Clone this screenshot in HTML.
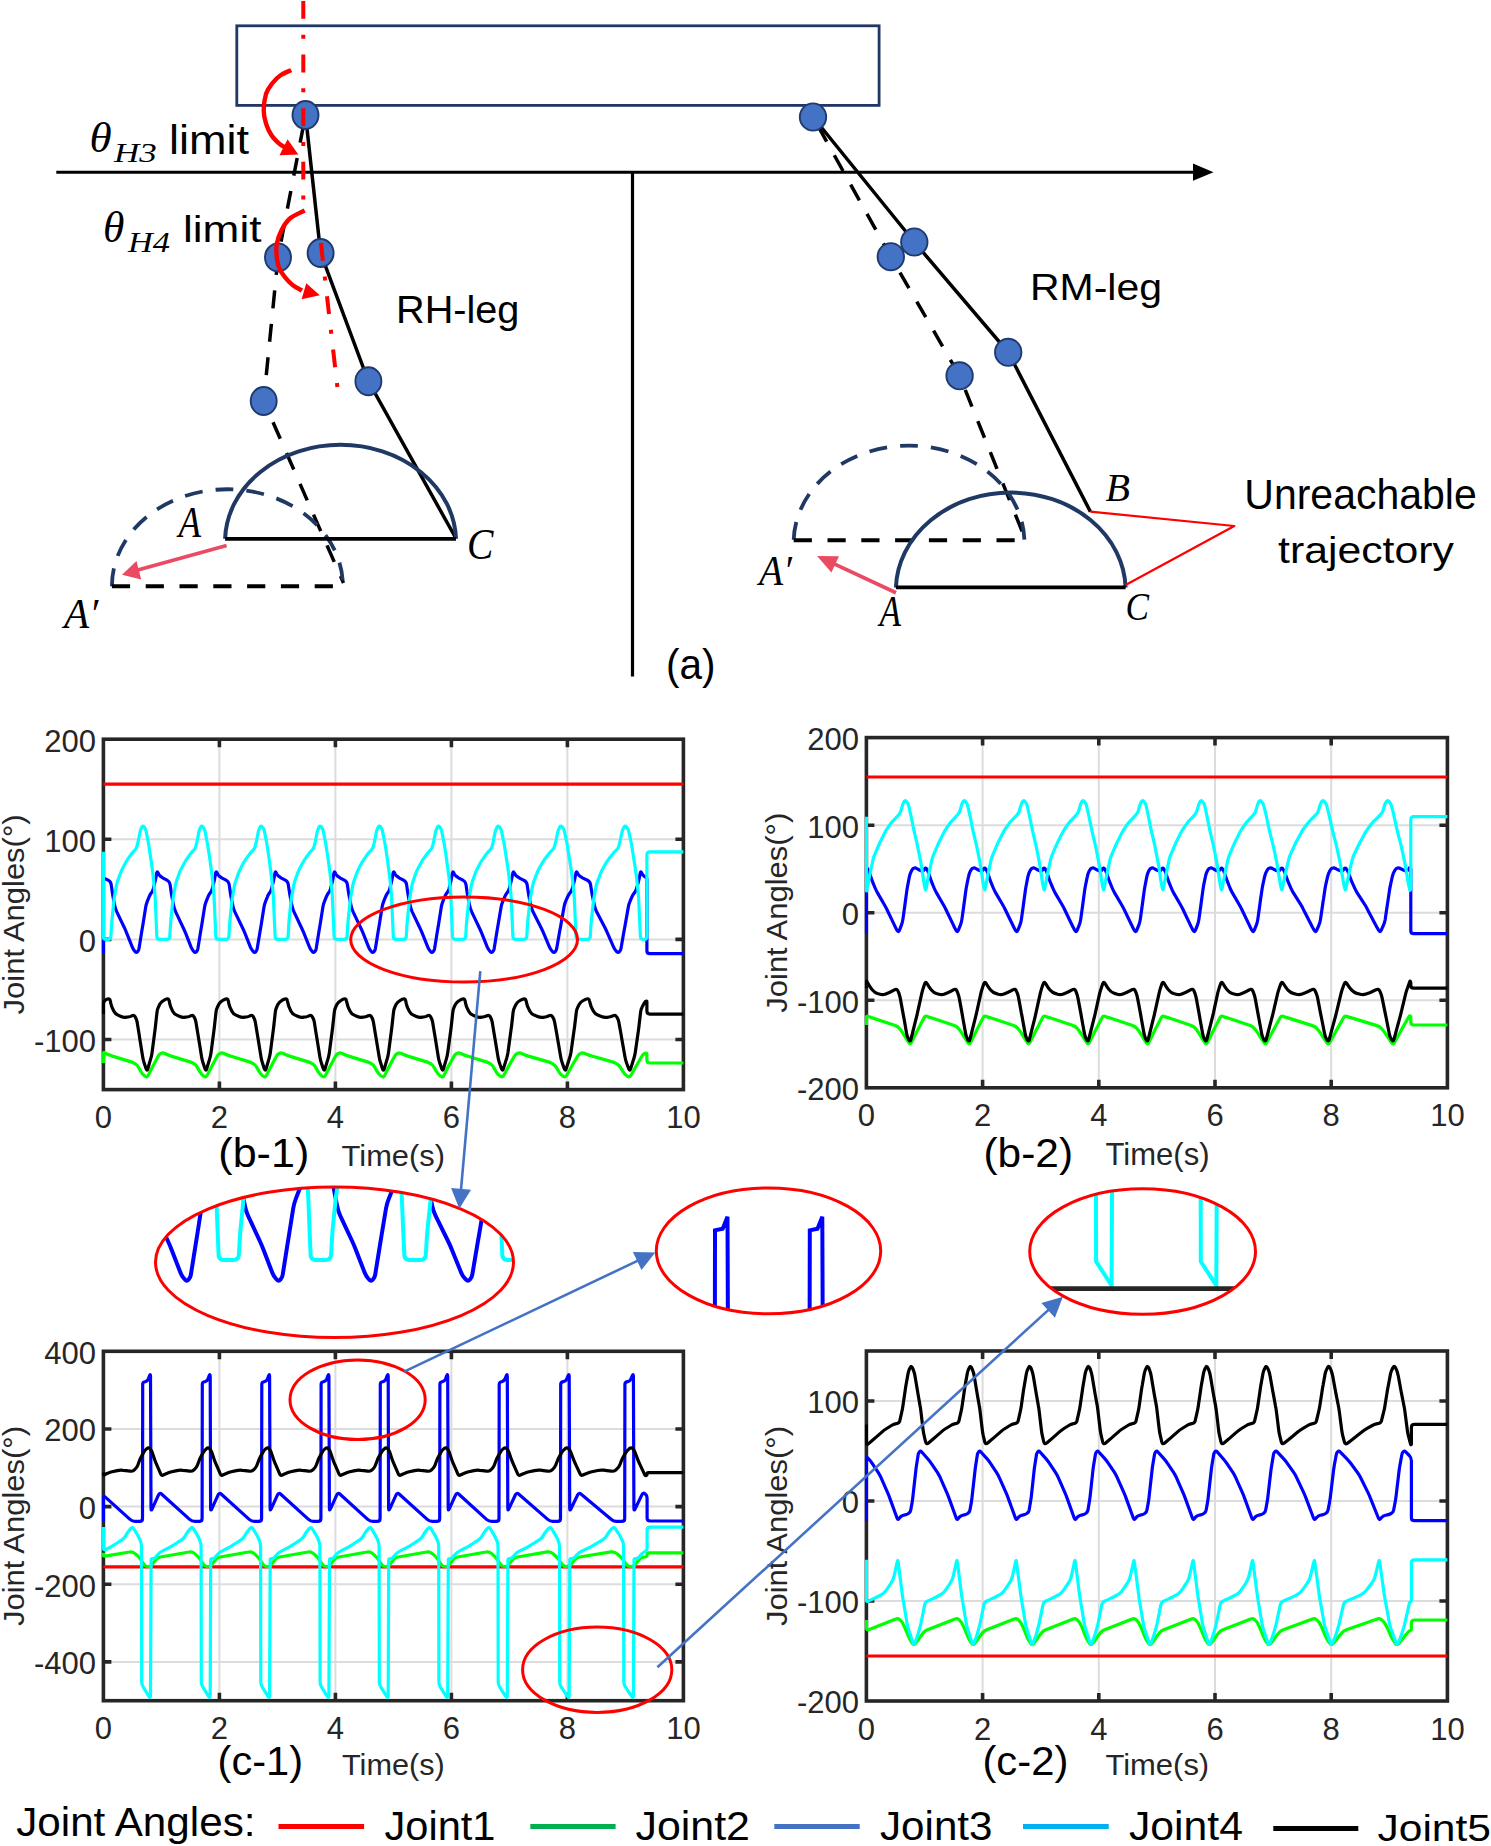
<!DOCTYPE html>
<html><head><meta charset="utf-8"><title>Joint angles figure</title><style>html,body{margin:0;padding:0;background:#fff;overflow:hidden;}svg{display:block;}</style></head><body>
<svg width="1491" height="1846" viewBox="0 0 1491 1846">
<rect width="1491" height="1846" fill="#ffffff"/>
<g id="diagram">
<rect x="236.8" y="25.8" width="642.3" height="79.6" fill="none" stroke="#203864" stroke-width="2.8"/>
<line x1="56.3" y1="172.2" x2="1197" y2="172.2" stroke="#000" stroke-width="3"/>
<polygon points="1213.5,172.2 1193,163.6 1193,180.8" fill="#000"/>
<line x1="632.5" y1="172" x2="632.5" y2="676.5" stroke="#000" stroke-width="3.2"/>
<polyline points="305.5,115 278,257.4 263.7,401 343.5,583" fill="none" stroke="#000" stroke-width="3.5" stroke-dasharray="18 15.6" stroke-dashoffset="23.4"/>
<polyline points="305.5,115 320.6,253 368.4,381.3 456,538.5" fill="none" stroke="#000" stroke-width="3.5"/>
<path d="M111.9 586.2 A115.5 97 0 0 1 342.9 586.2" fill="none" stroke="#203864" stroke-width="3.8" stroke-dasharray="18 13"/>
<line x1="111.9" y1="586.2" x2="343" y2="586.2" stroke="#000" stroke-width="4" stroke-dasharray="18.2 15.6"/>
<path d="M225.1 538.8 A115.5 96.8 0 0 1 456 538.8" fill="none" stroke="#203864" stroke-width="4"/>
<line x1="225.1" y1="538.8" x2="456" y2="538.8" stroke="#000" stroke-width="3.8"/>
<line x1="226.6" y1="545.5" x2="136" y2="570.5" stroke="#ea4a62" stroke-width="3.8"/>
<polygon points="122,574.7 136.5,561 141.2,579.6" fill="#ea4a62"/>
<polyline points="813,117 890.8,256.7 959.6,375.8 1024,536" fill="none" stroke="#000" stroke-width="3.5" stroke-dasharray="18 15.6" stroke-dashoffset="23.4"/>
<polyline points="813,117 914.3,242 1008.2,352.3 1090.4,511.7" fill="none" stroke="#000" stroke-width="3.5"/>
<path d="M793.7 539.8 A115.4 97 0 0 1 1024.4 539.8" fill="none" stroke="#203864" stroke-width="3.8" stroke-dasharray="18 13"/>
<line x1="793.7" y1="540.2" x2="1024.4" y2="540.2" stroke="#000" stroke-width="4" stroke-dasharray="18.2 15.6"/>
<path d="M895.9 587.5 A114.9 97.8 0 0 1 1125.6 587.5" fill="none" stroke="#203864" stroke-width="4"/>
<line x1="895.9" y1="587.3" x2="1125.6" y2="587.3" stroke="#000" stroke-width="3.8"/>
<polyline points="1090.4,511.7 1234.3,526 1125.6,585" fill="none" stroke="#ff0000" stroke-width="2.2" stroke-linejoin="round"/>
<line x1="896" y1="592.8" x2="832" y2="562.9" stroke="#ea4a62" stroke-width="3.8"/>
<polygon points="817.1,555.9 839,556.3 831.4,572.6" fill="#ea4a62"/>
<ellipse cx="305.5" cy="115" rx="13" ry="14" fill="#4472c4" stroke="#1f3a6e" stroke-width="1.9"/>
<ellipse cx="320.6" cy="253" rx="13" ry="14" fill="#4472c4" stroke="#1f3a6e" stroke-width="1.9"/>
<ellipse cx="278" cy="257.4" rx="13" ry="14" fill="#4472c4" stroke="#1f3a6e" stroke-width="1.9"/>
<ellipse cx="368.4" cy="381.3" rx="13" ry="14" fill="#4472c4" stroke="#1f3a6e" stroke-width="1.9"/>
<ellipse cx="263.7" cy="401" rx="13" ry="14" fill="#4472c4" stroke="#1f3a6e" stroke-width="1.9"/>
<ellipse cx="813" cy="117" rx="13.2" ry="13.6" fill="#4472c4" stroke="#1f3a6e" stroke-width="1.9"/>
<ellipse cx="914.3" cy="242" rx="13.2" ry="13.6" fill="#4472c4" stroke="#1f3a6e" stroke-width="1.9"/>
<ellipse cx="890.8" cy="256.7" rx="13.2" ry="13.6" fill="#4472c4" stroke="#1f3a6e" stroke-width="1.9"/>
<ellipse cx="1008.2" cy="352.3" rx="13.2" ry="13.6" fill="#4472c4" stroke="#1f3a6e" stroke-width="1.9"/>
<ellipse cx="959.6" cy="375.8" rx="13.2" ry="13.6" fill="#4472c4" stroke="#1f3a6e" stroke-width="1.9"/>
<line x1="303.3" y1="1" x2="303.3" y2="200" stroke="#ff0000" stroke-width="4" stroke-dasharray="17.8 15.9 4 15.9"/>
<line x1="320.9" y1="243" x2="337.5" y2="388" stroke="#ff0000" stroke-width="4" stroke-dasharray="17.8 15.9 4 15.9"/>
<path d="M291.2 70.1C289.4 71 283.4 73.3 280.2 75.5C277 77.7 274.5 80.5 272.1 83.5C269.8 86.5 267.5 89.1 266.1 93.6C264.7 98.1 263.7 105.4 263.7 110.4C263.7 115.4 264.8 119.7 266.1 123.8C267.4 127.9 269.3 131.8 271.5 135.2C273.7 138.5 277.2 141.8 279.5 143.9C281.8 146 284.5 146.9 285.5 147.5" fill="none" stroke="#ff0000" stroke-width="4.4"/>
<polygon points="298.3,154.6 279.5,155.3 287.6,139.2" fill="#ff0000"/>
<path d="M304.7 210.5C302.3 211.8 294.1 214.9 290.2 218.2C286.3 221.5 283.7 225.9 281.5 230.2C279.3 234.4 277.6 239.8 276.8 243.7C276 247.6 276.2 249.8 276.5 253.7C276.8 257.6 277.4 263.2 278.8 267.1C280.2 271 282.5 274.2 284.9 277.2C287.2 280.2 290 283 292.9 285.2C295.8 287.4 300.5 289.6 302 290.5" fill="none" stroke="#ff0000" stroke-width="4.4"/>
<polygon points="319.8,295.3 301.6,299.3 306.3,283.2" fill="#ff0000"/>
<text x="89.5" y="151.9" font-family="'Liberation Serif', 'Times New Roman', serif" font-size="42.8" fill="#000" text-anchor="start" textLength="22.2" lengthAdjust="spacingAndGlyphs" font-style="italic">θ</text>
<text x="114" y="162.3" font-family="'Liberation Serif', 'Times New Roman', serif" font-size="26.6" fill="#000" text-anchor="start" textLength="42.8" lengthAdjust="spacingAndGlyphs" font-style="italic">H3</text>
<text x="169" y="153.8" font-family="'Liberation Sans', Arial, sans-serif" font-size="40.6" fill="#000" text-anchor="start" textLength="80" lengthAdjust="spacingAndGlyphs">limit</text>
<text x="103" y="241.5" font-family="'Liberation Serif', 'Times New Roman', serif" font-size="44" fill="#000" text-anchor="start" textLength="21.4" lengthAdjust="spacingAndGlyphs" font-style="italic">θ</text>
<text x="128" y="252.4" font-family="'Liberation Serif', 'Times New Roman', serif" font-size="29.2" fill="#000" text-anchor="start" textLength="42" lengthAdjust="spacingAndGlyphs" font-style="italic">H4</text>
<text x="183" y="242" font-family="'Liberation Sans', Arial, sans-serif" font-size="36.6" fill="#000" text-anchor="start" textLength="78.5" lengthAdjust="spacingAndGlyphs">limit</text>
<text x="396" y="322.5" font-family="'Liberation Sans', Arial, sans-serif" font-size="38.4" fill="#000" text-anchor="start" textLength="123.4" lengthAdjust="spacingAndGlyphs">RH-leg</text>
<text x="1030" y="299.6" font-family="'Liberation Sans', Arial, sans-serif" font-size="37.8" fill="#000" text-anchor="start" textLength="132" lengthAdjust="spacingAndGlyphs">RM-leg</text>
<text x="1244.3" y="508.6" font-family="'Liberation Sans', Arial, sans-serif" font-size="42.2" fill="#000" text-anchor="start" textLength="232.4" lengthAdjust="spacingAndGlyphs">Unreachable</text>
<text x="1278.1" y="562.8" font-family="'Liberation Sans', Arial, sans-serif" font-size="37.2" fill="#000" text-anchor="start" textLength="175.8" lengthAdjust="spacingAndGlyphs">trajectory</text>
<text x="666" y="679.3" font-family="'Liberation Sans', Arial, sans-serif" font-size="41.8" fill="#000" text-anchor="start" textLength="49.5" lengthAdjust="spacingAndGlyphs">(a)</text>
<text x="178.5" y="537" font-family="'Liberation Serif', 'Times New Roman', serif" font-size="43.6" fill="#000" text-anchor="start" textLength="22.5" lengthAdjust="spacingAndGlyphs" font-style="italic">A</text>
<text x="467" y="559" font-family="'Liberation Serif', 'Times New Roman', serif" font-size="44" fill="#000" text-anchor="start" textLength="26.4" lengthAdjust="spacingAndGlyphs" font-style="italic">C</text>
<text x="64" y="627.5" font-family="'Liberation Serif', 'Times New Roman', serif" font-size="42" fill="#000" text-anchor="start" textLength="34.2" lengthAdjust="spacingAndGlyphs" font-style="italic">A′</text>
<text x="1105.5" y="501" font-family="'Liberation Serif', 'Times New Roman', serif" font-size="40.2" fill="#000" text-anchor="start" textLength="24.5" lengthAdjust="spacingAndGlyphs" font-style="italic">B</text>
<text x="759" y="585" font-family="'Liberation Serif', 'Times New Roman', serif" font-size="42" fill="#000" text-anchor="start" textLength="32.8" lengthAdjust="spacingAndGlyphs" font-style="italic">A′</text>
<text x="879.5" y="626" font-family="'Liberation Serif', 'Times New Roman', serif" font-size="43.5" fill="#000" text-anchor="start" textLength="21.5" lengthAdjust="spacingAndGlyphs" font-style="italic">A</text>
<text x="1125.5" y="620" font-family="'Liberation Serif', 'Times New Roman', serif" font-size="40.9" fill="#000" text-anchor="start" textLength="23.5" lengthAdjust="spacingAndGlyphs" font-style="italic">C</text>
</g>
<g>
<line x1="219.4" y1="739.2" x2="219.4" y2="1089.6" stroke="#dcdcdc" stroke-width="2"/>
<line x1="335.4" y1="739.2" x2="335.4" y2="1089.6" stroke="#dcdcdc" stroke-width="2"/>
<line x1="451.4" y1="739.2" x2="451.4" y2="1089.6" stroke="#dcdcdc" stroke-width="2"/>
<line x1="567.4" y1="739.2" x2="567.4" y2="1089.6" stroke="#dcdcdc" stroke-width="2"/>
<line x1="103.4" y1="839.3" x2="683.4" y2="839.3" stroke="#dcdcdc" stroke-width="2"/>
<line x1="103.4" y1="939.4" x2="683.4" y2="939.4" stroke="#dcdcdc" stroke-width="2"/>
<line x1="103.4" y1="1039.5" x2="683.4" y2="1039.5" stroke="#dcdcdc" stroke-width="2"/>
<path d="M219.4 739.2V747.2M219.4 1089.6V1081.6M335.4 739.2V747.2M335.4 1089.6V1081.6M451.4 739.2V747.2M451.4 1089.6V1081.6M567.4 739.2V747.2M567.4 1089.6V1081.6M103.4 839.3H111.4M683.4 839.3H675.4M103.4 939.4H111.4M683.4 939.4H675.4M103.4 1039.5H111.4M683.4 1039.5H675.4" stroke="#262626" stroke-width="3.6" fill="none"/>
<rect x="103.4" y="739.2" width="580" height="350.4" fill="none" stroke="#262626" stroke-width="3.6"/>
<clipPath id="clip_b1"><rect x="101.8" y="737.6" width="583.2" height="353.6"/></clipPath>
<g clip-path="url(#clip_b1)" fill="none" stroke-width="3.2" stroke-linejoin="round">
<path d="M103.4 784.2 L683.4 784.2" stroke="#ff0000"/>
<path d="M103.4 1063L103.4 1053Q103.4 1052.7 103.7 1052.6L103.7 1052.6Q104 1052.4 104.3 1052.6L107.1 1054Q109.7 1055.2 112.4 1056.1L131.9 1062.1Q133.9 1062.7 135.5 1064L135.9 1064.3Q137.6 1065.5 138.6 1067.4L140.9 1071.6Q142.2 1074 144.4 1075.8L144.8 1076.1Q147 1077.9 148.2 1075.4L151.3 1069.2Q152.7 1066.5 154.1 1063.9L158.3 1056Q159.2 1054.3 160.9 1053.5L161.2 1053.3Q162.9 1052.4 164.5 1053.3L166 1054Q168.5 1055.2 171.2 1056.1L190.8 1062.1Q192.8 1062.7 194.4 1064L194.8 1064.3Q196.4 1065.5 197.4 1067.4L199.8 1071.6Q201.1 1074 203.3 1075.8L203.7 1076.1Q205.9 1077.9 207.1 1075.4L210.3 1069.2Q211.6 1066.5 213 1063.9L217.3 1056Q218.2 1054.3 219.9 1053.5L220.3 1053.3Q221.9 1052.4 223.6 1053.3L225.1 1054Q227.6 1055.2 230.4 1056.1L250.1 1062.1Q252.1 1062.7 253.7 1064L254.1 1064.3Q255.8 1065.5 256.8 1067.4L259.2 1071.6Q260.5 1074 262.6 1075.8L263.1 1076.1Q265.3 1077.9 266.5 1075.4L269.6 1069.2Q270.9 1066.5 272.3 1063.9L276.6 1056Q277.5 1054.3 279.1 1053.5L279.5 1053.3Q281.2 1052.4 282.8 1053.3L284.3 1054Q286.8 1055.2 289.5 1056.1L309.1 1062.1Q311.1 1062.7 312.7 1064L313.1 1064.3Q314.7 1065.5 315.7 1067.4L318.1 1071.6Q319.4 1074 321.6 1075.8L322.1 1076.1Q324.2 1077.9 325.4 1075.4L328.6 1069.2Q329.9 1066.5 331.3 1063.9L335.6 1056Q336.5 1054.3 338.2 1053.5L338.5 1053.3Q340.2 1052.4 341.9 1053.3L343.3 1054Q345.9 1055.2 348.6 1056.1L368.2 1062.1Q370.2 1062.7 371.9 1064L372.3 1064.3Q373.9 1065.5 374.9 1067.4L377.3 1071.6Q378.6 1074 380.8 1075.8L381.3 1076.1Q383.4 1077.9 384.7 1075.4L387.8 1069.2Q389.1 1066.5 390.5 1063.9L394.8 1056Q395.7 1054.3 397.4 1053.5L397.7 1053.3Q399.4 1052.4 401.1 1053.3L402.5 1054Q405.1 1055.2 407.8 1056.1L427.4 1062.1Q429.4 1062.7 431.1 1064L431.4 1064.3Q433.1 1065.5 434.1 1067.4L436.5 1071.6Q437.8 1074 440 1075.8L440.4 1076.1Q442.6 1077.9 443.9 1075.4L447 1069.2Q448.3 1066.5 449.8 1063.9L454.1 1056Q455 1054.3 456.7 1053.5L457 1053.3Q458.7 1052.4 460.4 1053.3L461.9 1054Q464.4 1055.2 467.2 1056.1L487 1062.1Q489 1062.7 490.6 1064L491 1064.3Q492.7 1065.5 493.7 1067.4L496 1071.6Q497.4 1074 499.7 1075.8L500.2 1076.1Q502.5 1077.9 503.8 1075.3L507.1 1069.2Q508.5 1066.5 510 1063.9L514.5 1056Q515.5 1054.3 517.2 1053.5L517.6 1053.3Q519.4 1052.4 521.2 1053.2L522.7 1054Q525.4 1055.2 528.3 1056.1L549.2 1062.1Q551.3 1062.7 553 1064L553.4 1064.3Q555.2 1065.5 556.3 1067.4L558.7 1071.5Q560.1 1074 562.5 1075.8L563 1076.1Q565.3 1077.9 566.7 1075.3L570.1 1069.2Q571.5 1066.5 573 1064L577.7 1056.1Q578.7 1054.3 580.5 1053.5L580.9 1053.3Q582.7 1052.4 584.5 1053.2L586.1 1054Q588.9 1055.2 591.8 1056L613.2 1062.1Q615.3 1062.7 617.1 1064L617.5 1064.3Q619.4 1065.5 620.5 1067.4L623 1071.6Q624.5 1074 626.8 1075.8L627.3 1076.1Q629.7 1077.9 631 1075.3L634.4 1069.2Q635.8 1066.5 637.4 1064L642 1056Q643 1054.3 644.7 1053.5L645.1 1053.3Q646.9 1052.5 646.9 1054.4L646.9 1060Q646.9 1063 649.9 1063L683.4 1063" stroke="#00ff00"/>
<path d="M103.4 953.7L103.4 880.6Q103.4 877.6 106 879.1L108.1 880.2Q110.8 881.6 111.2 884.6L112.2 891.8Q112.6 894.8 113.2 897.7L114.8 905.9Q115.4 908.9 116.7 911.6L124.4 927.7Q125.6 930.4 126.7 933.2L132.3 947.2Q133.1 949.3 134.6 951L135.3 951.8Q136.4 953 137.4 951.8L137.7 951.5Q138.8 950.2 139 948.6L141.9 930.6Q142.4 927.7 142.9 924.7L145.7 907.1Q146.2 904.2 147.3 901.4L149.1 896.8Q149.9 894.8 151.2 893L151.5 892.7Q152.8 890.9 153.3 888.9L154.8 882.6Q155.5 879.7 156.1 876.8L156.8 872.9Q157.1 870.8 158 872.7L158.4 873.6Q159 875 160.2 876.1L160.5 876.3Q161.7 877.3 163.1 878.1L167 880.2Q169.6 881.6 170.1 884.6L171.1 891.8Q171.5 894.8 172.1 897.7L173.7 905.9Q174.3 908.9 175.6 911.6L183.2 927.7Q184.5 930.4 185.6 933.2L191.1 947.2Q192 949.3 193.4 951L194.1 951.8Q195.2 953 196.3 951.8L196.6 951.5Q197.6 950.2 197.9 948.6L200.8 930.6Q201.3 927.7 201.8 924.7L204.6 907.1Q205.1 904.2 206.2 901.4L208 896.8Q208.8 894.8 210.1 893L210.4 892.7Q211.7 890.9 212.2 888.9L213.8 882.6Q214.5 879.7 215 876.8L215.7 872.9Q216.1 870.8 217 872.7L217.4 873.6Q218 875 219.2 876.1L219.5 876.3Q220.7 877.3 222.1 878.1L226.1 880.2Q228.7 881.6 229.2 884.6L230.2 891.8Q230.6 894.8 231.2 897.7L232.9 905.9Q233.4 908.9 234.7 911.6L242.5 927.7Q243.8 930.4 244.9 933.2L250.4 947.2Q251.3 949.3 252.8 951L253.5 951.8Q254.6 953 255.7 951.8L255.9 951.5Q257 950.2 257.2 948.6L260.2 930.6Q260.7 927.7 261.2 924.7L264 907.1Q264.5 904.2 265.6 901.4L267.4 896.8Q268.1 894.8 269.4 893L269.7 892.7Q271 890.9 271.5 888.9L273.1 882.6Q273.8 879.7 274.3 876.8L275 872.9Q275.4 870.8 276.2 872.7L276.6 873.6Q277.3 875 278.5 876.1L278.8 876.3Q280 877.3 281.4 878.1L285.3 880.2Q287.9 881.6 288.3 884.6L289.4 891.8Q289.8 894.8 290.4 897.7L292 905.9Q292.6 908.9 293.9 911.6L301.5 927.7Q302.8 930.4 303.9 933.2L309.5 947.2Q310.3 949.3 311.8 951L312.5 951.8Q313.6 953 314.6 951.8L314.9 951.5Q315.9 950.2 316.2 948.6L319.1 930.6Q319.6 927.7 320.1 924.7L322.9 907.1Q323.4 904.2 324.5 901.4L326.3 896.8Q327.1 894.8 328.4 893L328.7 892.7Q330 890.9 330.5 888.9L332.1 882.6Q332.8 879.7 333.3 876.8L334 872.9Q334.4 870.8 335.2 872.7L335.6 873.6Q336.3 875 337.5 876.1L337.8 876.3Q339 877.3 340.4 878.1L344.3 880.2Q347 881.6 347.4 884.6L348.4 891.8Q348.9 894.8 349.5 897.7L351.1 905.9Q351.7 908.9 353 911.6L360.7 927.7Q362 930.4 363.1 933.2L368.6 947.2Q369.4 949.3 370.9 951L371.6 951.8Q372.7 953 373.8 951.8L374.1 951.5Q375.1 950.2 375.4 948.6L378.3 930.6Q378.8 927.7 379.3 924.7L382.1 907.1Q382.6 904.2 383.7 901.4L385.5 896.8Q386.3 894.8 387.6 893L387.9 892.7Q389.2 890.9 389.7 888.9L391.3 882.6Q392 879.7 392.5 876.8L393.2 872.9Q393.6 870.8 394.5 872.7L394.8 873.6Q395.5 875 396.7 876.1L397 876.3Q398.2 877.3 399.6 878.1L403.5 880.2Q406.2 881.6 406.6 884.6L407.6 891.8Q408.1 894.8 408.6 897.7L410.3 905.9Q410.9 908.9 412.1 911.6L419.8 927.7Q421.1 930.4 422.2 933.2L427.8 947.2Q428.6 949.3 430.1 951L430.8 951.8Q431.9 953 433 951.8L433.2 951.5Q434.3 950.2 434.6 948.6L437.5 930.6Q438 927.7 438.5 924.7L441.3 907.1Q441.8 904.2 442.9 901.4L444.7 896.8Q445.5 894.8 446.8 893L447.1 892.7Q448.4 890.9 449 888.9L450.5 882.6Q451.3 879.7 451.8 876.8L452.5 872.9Q452.9 870.8 453.7 872.7L454.1 873.6Q454.8 875 456 876.1L456.3 876.3Q457.5 877.3 458.9 878.1L462.9 880.2Q465.5 881.6 466 884.6L467 891.8Q467.5 894.8 468 897.7L469.7 905.9Q470.3 908.9 471.6 911.6L479.3 927.7Q480.6 930.4 481.7 933.2L487.3 947.2Q488.2 949.3 489.7 951L490.4 951.8Q491.5 953 492.6 951.8L492.8 951.5Q493.9 950.2 494.2 948.6L497.1 930.6Q497.6 927.7 498.1 924.7L501.1 907.1Q501.6 904.2 502.8 901.4L504.7 896.8Q505.5 894.8 506.9 893L507.2 892.7Q508.6 890.9 509.2 888.8L510.8 882.6Q511.6 879.7 512.1 876.8L512.9 872.9Q513.3 870.8 514.2 872.7L514.6 873.5Q515.3 875 516.6 876.1L516.8 876.3Q518.1 877.3 519.6 878.1L523.9 880.3Q526.6 881.6 527.1 884.6L528.2 891.8Q528.6 894.8 529.2 897.7L531 905.9Q531.6 908.9 532.9 911.5L541.1 927.7Q542.5 930.4 543.6 933.2L549.5 947.2Q550.4 949.3 552 951L552.7 951.8Q553.9 953 555 951.8L555.3 951.5Q556.4 950.2 556.7 948.5L559.8 930.6Q560.4 927.7 560.9 924.7L564 907.1Q564.5 904.2 565.6 901.4L567.6 896.8Q568.5 894.8 569.9 893L570.2 892.7Q571.6 890.9 572.2 888.8L573.9 882.6Q574.7 879.7 575.2 876.8L576 872.9Q576.4 870.8 577.3 872.7L577.7 873.5Q578.5 875 579.8 876.1L580.1 876.3Q581.4 877.3 582.9 878.1L587.4 880.3Q590.1 881.6 590.5 884.6L591.7 891.8Q592.1 894.8 592.8 897.7L594.5 905.9Q595.2 908.9 596.5 911.5L605 927.7Q606.3 930.4 607.5 933.1L613.6 947.2Q614.5 949.3 616.1 951L616.9 951.8Q618.1 953 619.2 951.8L619.5 951.5Q620.7 950.2 621 948.5L624.1 930.6Q624.7 927.7 625.2 924.7L628.3 907.1Q628.8 904.2 630 901.4L631.9 896.8Q632.8 894.8 634.2 893L634.5 892.7Q635.9 890.9 636.5 888.8L638.2 882.6Q639 879.7 639.6 876.8L640.3 872.9Q640.7 870.8 641.6 872.7L642 873.5Q642.8 875 644.1 876.1L645.3 877Q645.7 877.3 646.2 877.6L646.3 877.6Q646.9 877.9 646.9 878.5L646.9 950.7Q646.9 953.7 649.9 953.7L683.4 953.7" stroke="#0000ff"/>
<path d="M103.4 851.8L103.4 936.4Q103.4 939.4 106.4 939.4L107.8 939.4Q110.8 939.4 110.9 936.4L111.5 926Q111.7 923 112 920L113.7 902.4Q114 899.5 114.5 896.5L116.3 886.4Q116.8 883.4 117.8 880.6L120.5 873.2Q121.5 870.3 122.9 867.7L125.6 862.7Q127 860 128.8 857.6L131.3 854.3Q132.7 852.4 134.4 850.7L134.7 850.4Q136.4 848.7 136.9 846.4L137.5 844.1Q138.3 841.2 138.8 838.2L139.7 833.5Q140.1 830.8 141.3 828.3L141.8 827.2Q142.7 825.3 144.1 826.9L144.4 827.3Q145.7 829 146.1 831.1L147.9 840.2Q148.5 843.1 148.9 846.1L150.8 858.8Q151.3 861.8 151.7 864.8L152.8 873Q153.1 875.9 153.4 878.9L154.7 891.8Q155 894.8 155.2 897.7L156.8 936.4Q156.9 939.4 159.9 939.4L166.6 939.4Q169.6 939.4 169.8 936.4L170.4 926Q170.6 923 170.9 920L172.6 902.4Q172.9 899.5 173.4 896.5L175.2 886.4Q175.7 883.4 176.7 880.6L179.3 873.2Q180.3 870.3 181.8 867.7L184.5 862.7Q185.9 860 187.7 857.6L190.2 854.3Q191.6 852.4 193.2 850.7L193.6 850.4Q195.2 848.7 195.8 846.4L196.4 844.1Q197.1 841.2 197.7 838.2L198.5 833.5Q199 830.8 200.2 828.3L200.7 827.2Q201.6 825.3 202.9 826.9L203.2 827.3Q204.6 829 205 831.1L206.8 840.2Q207.4 843.1 207.8 846.1L209.8 858.8Q210.2 861.8 210.6 864.8L211.7 873Q212.1 875.9 212.4 878.9L213.7 891.8Q214 894.8 214.1 897.7L215.8 936.4Q215.9 939.4 218.9 939.4L225.7 939.4Q228.7 939.4 228.9 936.4L229.5 926Q229.7 923 230 920L231.7 902.4Q232 899.5 232.6 896.5L234.3 886.4Q234.8 883.4 235.9 880.6L238.5 873.1Q239.6 870.3 241 867.7L243.7 862.6Q245.2 860 247 857.6L249.5 854.3Q250.9 852.4 252.5 850.7L252.9 850.4Q254.6 848.7 255.2 846.4L255.7 844.1Q256.5 841.2 257 838.2L257.9 833.5Q258.4 830.8 259.6 828.3L260.1 827.2Q261 825.3 262.3 826.9L262.6 827.3Q264 829 264.4 831.1L266.2 840.2Q266.7 843.1 267.2 846.1L269.1 858.8Q269.5 861.8 269.9 864.8L271 873Q271.4 875.9 271.7 878.9L273 891.8Q273.3 894.8 273.4 897.7L275.1 936.4Q275.2 939.4 278.2 939.4L284.9 939.4Q287.9 939.4 288.1 936.4L288.7 926Q288.9 923 289.1 920L290.9 902.4Q291.2 899.5 291.7 896.5L293.5 886.4Q294 883.4 295 880.6L297.6 873.2Q298.6 870.3 300.1 867.7L302.8 862.7Q304.2 860 306 857.6L308.5 854.3Q309.9 852.4 311.5 850.7L311.9 850.4Q313.6 848.7 314.1 846.4L314.7 844.1Q315.4 841.2 316 838.2L316.8 833.5Q317.3 830.8 318.5 828.3L319 827.2Q319.9 825.3 321.3 826.9L321.6 827.3Q322.9 829 323.3 831.1L325.1 840.2Q325.7 843.1 326.1 846.1L328.1 858.8Q328.5 861.8 328.9 864.8L330 873Q330.4 875.9 330.7 878.9L332 891.8Q332.3 894.8 332.4 897.7L334.1 936.4Q334.2 939.4 337.2 939.4L344 939.4Q347 939.4 347.1 936.4L347.7 926Q347.9 923 348.2 920L350 902.4Q350.3 899.5 350.8 896.5L352.6 886.4Q353.1 883.4 354.1 880.6L356.8 873.1Q357.8 870.3 359.2 867.7L361.9 862.6Q363.4 860 365.2 857.6L367.6 854.3Q369 852.4 370.7 850.7L371.1 850.4Q372.7 848.7 373.3 846.4L373.9 844.1Q374.6 841.2 375.2 838.2L376 833.5Q376.5 830.8 377.7 828.3L378.2 827.2Q379.1 825.3 380.5 826.9L380.8 827.3Q382.1 829 382.5 831.1L384.3 840.2Q384.9 843.1 385.4 846.1L387.3 858.8Q387.7 861.8 388.1 864.8L389.2 873Q389.6 875.9 389.9 878.9L391.2 891.8Q391.5 894.8 391.6 897.7L393.3 936.4Q393.4 939.4 396.4 939.4L403.2 939.4Q406.2 939.4 406.3 936.4L406.9 926Q407.1 923 407.4 920L409.2 902.4Q409.5 899.5 410 896.5L411.7 886.4Q412.3 883.4 413.3 880.6L415.9 873.1Q416.9 870.3 418.4 867.7L421.1 862.7Q422.5 860 424.3 857.6L426.8 854.3Q428.2 852.4 429.9 850.7L430.2 850.4Q431.9 848.7 432.5 846.4L433.1 844.1Q433.8 841.2 434.3 838.2L435.2 833.5Q435.7 830.8 436.9 828.3L437.4 827.2Q438.3 825.3 439.6 826.9L440 827.3Q441.3 829 441.7 831.1L443.5 840.2Q444.1 843.1 444.6 846.1L446.5 858.8Q446.9 861.8 447.3 864.8L448.4 873Q448.8 875.9 449.2 878.9L450.5 891.8Q450.8 894.8 450.9 897.7L452.5 936.4Q452.7 939.4 455.7 939.4L462.5 939.4Q465.5 939.4 465.7 936.4L466.3 926Q466.5 923 466.8 920L468.6 902.4Q468.9 899.5 469.4 896.5L471.2 886.4Q471.7 883.4 472.7 880.6L475.4 873.1Q476.4 870.3 477.8 867.7L480.6 862.6Q482 860 483.8 857.6L486.3 854.3Q487.8 852.4 489.4 850.7L489.8 850.4Q491.5 848.7 492.1 846.4L492.7 844.1Q493.4 841.2 493.9 838.2L494.8 833.5Q495.3 830.8 496.5 828.3L497 827.3Q497.9 825.3 499.3 826.9L499.7 827.3Q501.1 829 501.5 831.1L503.4 840.2Q504.1 843.1 504.5 846.1L506.5 858.9Q507 861.8 507.4 864.8L508.6 873Q509 875.9 509.3 878.9L510.7 891.8Q511 894.8 511.2 897.7L512.9 936.4Q513 939.4 516 939.4L523.6 939.4Q526.6 939.4 526.8 936.4L527.4 926Q527.6 923 527.9 920L529.8 902.4Q530.1 899.5 530.6 896.5L532.5 886.4Q533.1 883.4 534.1 880.6L537 873.1Q538 870.3 539.5 867.7L542.5 862.6Q544 860 545.8 857.7L548.5 854.3Q550 852.4 551.7 850.7L552.1 850.4Q553.9 848.7 554.5 846.4L555.1 844.1Q555.9 841.2 556.5 838.2L557.4 833.5Q557.9 830.8 559.2 828.3L559.7 827.3Q560.7 825.3 562.1 826.9L562.5 827.3Q563.9 829 564.4 831.1L566.3 840.2Q567 843.1 567.4 846.1L569.5 858.9Q570 861.8 570.4 864.8L571.6 873Q572.1 875.9 572.4 878.9L573.8 891.8Q574.1 894.8 574.3 897.7L576 936.4Q576.2 939.4 579.2 939.4L587.1 939.4Q590.1 939.4 590.3 936.4L590.9 926Q591.1 923 591.4 920L593.3 902.4Q593.6 899.5 594.2 896.5L596.1 886.4Q596.7 883.4 597.8 880.6L600.7 873.1Q601.8 870.3 603.3 867.7L606.3 862.6Q607.9 860 609.7 857.7L612.5 854.3Q614 852.4 615.8 850.7L616.2 850.4Q618.1 848.7 618.7 846.3L619.3 844.1Q620.1 841.2 620.7 838.2L621.6 833.5Q622.2 830.8 623.4 828.3L624 827.2Q625 825.3 626.5 826.9L626.8 827.3Q628.2 829 628.7 831.1L630.7 840.2Q631.3 843.1 631.8 846.1L633.8 858.9Q634.3 861.8 634.8 864.8L635.9 873Q636.4 875.9 636.7 878.9L638.1 891.8Q638.4 894.8 638.6 897.7L640.4 936.5Q640.5 939.4 643.4 939.4L644 939.4Q646.9 939.4 646.9 936.5L646.9 854.8Q646.9 851.8 649.9 851.8L683.4 851.8" stroke="#00ffff"/>
<path d="M103.4 1014.1L103.4 1004.1Q103.4 1001.1 106.1 999.7L107 999.2Q109.7 997.9 110.3 1000.8L110.8 1003.4Q111.5 1006.4 112.8 1009.1L113.9 1011.2Q115.2 1013.9 118 1015.1L121 1016.5Q123.7 1017.7 126.6 1017.2L128.2 1017Q130.1 1016.7 131.8 1015.8L132.2 1015.6Q133.9 1014.8 134.9 1016.4L135.4 1017.4Q136.7 1019.5 137.1 1021.9L139 1033.4Q139.4 1036.4 139.9 1039.4L142.7 1057Q143.2 1059.9 144.1 1062.8L146.1 1068.8Q147 1071.6 147.8 1068.8L150.9 1058.1Q151.8 1055.2 152.1 1052.3L155 1030Q155.4 1027 155.7 1024L157 1012.2Q157.3 1009.2 158.7 1006.5L159.7 1004.3Q161.1 1001.7 163.8 1000.3L165.9 999.2Q168.5 997.9 169.2 1000.8L169.7 1003.4Q170.3 1006.4 171.7 1009.1L172.7 1011.2Q174.1 1013.9 176.8 1015.1L179.9 1016.5Q182.5 1017.7 185.4 1017.2L187.1 1017Q189 1016.7 190.7 1015.8L191.1 1015.6Q192.8 1014.8 193.7 1016.4L194.3 1017.4Q195.5 1019.5 195.9 1021.9L197.8 1033.4Q198.3 1036.4 198.8 1039.4L201.6 1057Q202.1 1059.9 203 1062.8L205 1068.8Q205.9 1071.6 206.7 1068.8L209.9 1058.1Q210.7 1055.2 211.1 1052.3L214 1030Q214.4 1027 214.7 1024L216 1012.2Q216.3 1009.2 217.7 1006.5L218.8 1004.3Q220.1 1001.7 222.8 1000.3L225 999.2Q227.6 997.9 228.3 1000.8L228.8 1003.4Q229.4 1006.4 230.8 1009L231.9 1011.2Q233.2 1013.9 236 1015.1L239.1 1016.5Q241.8 1017.7 244.7 1017.2L246.4 1017Q248.3 1016.7 250 1015.8L250.4 1015.6Q252.1 1014.8 253.1 1016.4L253.6 1017.4Q254.9 1019.5 255.3 1021.9L257.2 1033.4Q257.7 1036.4 258.2 1039.4L261 1057Q261.5 1059.9 262.4 1062.8L264.3 1068.8Q265.3 1071.6 266.1 1068.8L269.2 1058.1Q270 1055.2 270.4 1052.3L273.3 1030Q273.7 1027 274 1024L275.3 1012.2Q275.6 1009.2 276.9 1006.5L278 1004.3Q279.4 1001.7 282 1000.3L284.2 999.2Q286.8 997.9 287.4 1000.8L288 1003.4Q288.6 1006.4 290 1009.1L291 1011.2Q292.4 1013.9 295.1 1015.1L298.2 1016.5Q300.8 1017.7 303.7 1017.2L305.4 1017Q307.3 1016.7 309 1015.8L309.4 1015.6Q311.1 1014.8 312 1016.4L312.6 1017.4Q313.9 1019.5 314.3 1021.9L316.1 1033.4Q316.6 1036.4 317.1 1039.4L319.9 1057Q320.4 1059.9 321.3 1062.8L323.3 1068.8Q324.2 1071.6 325 1068.8L328.2 1058.1Q329 1055.2 329.4 1052.3L332.3 1030Q332.7 1027 333 1024L334.3 1012.2Q334.6 1009.2 335.9 1006.5L337 1004.3Q338.4 1001.7 341.1 1000.3L343.2 999.2Q345.9 997.9 346.5 1000.8L347.1 1003.4Q347.7 1006.4 349 1009.1L350.1 1011.2Q351.5 1013.9 354.2 1015.1L357.3 1016.5Q360 1017.7 362.9 1017.2L364.6 1017Q366.4 1016.7 368.2 1015.8L368.5 1015.6Q370.2 1014.8 371.2 1016.4L371.8 1017.4Q373 1019.5 373.4 1021.9L375.3 1033.4Q375.8 1036.4 376.3 1039.4L379.2 1057Q379.6 1059.9 380.6 1062.8L382.5 1068.8Q383.4 1071.6 384.3 1068.8L387.4 1058.1Q388.2 1055.2 388.6 1052.3L391.5 1030Q391.9 1027 392.2 1024L393.5 1012.2Q393.8 1009.2 395.1 1006.5L396.2 1004.3Q397.6 1001.7 400.3 1000.3L402.4 999.2Q405.1 997.9 405.7 1000.8L406.2 1003.4Q406.9 1006.4 408.2 1009.1L409.3 1011.2Q410.7 1013.9 413.4 1015.1L416.4 1016.5Q419.1 1017.7 422.1 1017.2L423.7 1017Q425.6 1016.7 427.3 1015.8L427.7 1015.6Q429.4 1014.8 430.4 1016.4L430.9 1017.4Q432.2 1019.5 432.6 1021.9L434.5 1033.4Q435 1036.4 435.5 1039.4L438.3 1057Q438.8 1059.9 439.7 1062.8L441.7 1068.8Q442.6 1071.6 443.5 1068.8L446.6 1058.1Q447.4 1055.2 447.8 1052.3L450.8 1030Q451.2 1027 451.5 1024L452.8 1012.2Q453.1 1009.2 454.4 1006.5L455.5 1004.3Q456.9 1001.7 459.6 1000.3L461.8 999.2Q464.4 997.9 465.1 1000.8L465.6 1003.4Q466.2 1006.4 467.6 1009L468.7 1011.2Q470.1 1013.9 472.8 1015.1L475.9 1016.5Q478.6 1017.7 481.6 1017.2L483.2 1017Q485.1 1016.7 486.9 1015.8L487.2 1015.6Q489 1014.8 490 1016.4L490.5 1017.4Q491.8 1019.5 492.2 1021.9L494.1 1033.4Q494.6 1036.4 495.1 1039.4L498 1057Q498.4 1059.9 499.4 1062.8L501.5 1068.8Q502.5 1071.6 503.4 1068.8L506.7 1058.1Q507.5 1055.2 508 1052.3L511 1030Q511.5 1027 511.8 1024L513.1 1012.2Q513.5 1009.2 514.9 1006.5L516.1 1004.3Q517.5 1001.7 520.2 1000.4L522.7 999.2Q525.4 997.9 526.1 1000.8L526.7 1003.4Q527.3 1006.4 528.8 1009L529.9 1011.2Q531.4 1013.9 534.1 1015.1L537.6 1016.5Q540.4 1017.7 543.3 1017.3L545.3 1017Q547.2 1016.7 549 1015.8L549.4 1015.6Q551.3 1014.8 552.3 1016.5L552.9 1017.4Q554.2 1019.5 554.6 1022L556.7 1033.5Q557.2 1036.4 557.7 1039.4L560.7 1057Q561.2 1059.9 562.2 1062.8L564.3 1068.8Q565.3 1071.6 566.2 1068.8L569.6 1058.1Q570.5 1055.2 571 1052.3L574.1 1030Q574.6 1027 574.9 1024L576.3 1012.2Q576.6 1009.2 578.1 1006.5L579.3 1004.3Q580.7 1001.7 583.5 1000.4L586.2 999.1Q588.9 997.9 589.5 1000.8L590.2 1003.4Q590.8 1006.4 592.3 1009L593.5 1011.3Q594.9 1013.9 597.7 1015L601.4 1016.5Q604.2 1017.7 607.1 1017.3L609.2 1017Q611.2 1016.7 613.1 1015.8L613.5 1015.6Q615.3 1014.8 616.4 1016.5L617 1017.4Q618.4 1019.5 618.8 1022L620.9 1033.5Q621.4 1036.4 621.9 1039.4L625 1057Q625.5 1059.9 626.5 1062.8L628.7 1068.8Q629.7 1071.6 630.6 1068.8L634 1058.1Q634.9 1055.2 635.3 1052.3L638.5 1030Q638.9 1027 639.2 1024L640.6 1012.2Q640.9 1009.2 642.4 1006.5L644.6 1002.5Q645.1 1001.7 645.9 1001.3L646.1 1001.2Q646.9 1000.8 646.9 1001.7L646.9 1011.1Q646.9 1014.1 649.9 1014.1L683.4 1014.1" stroke="#000000"/>
</g>
<text x="96.1" y="751.5" font-family="'Liberation Sans', Arial, sans-serif" font-size="31" fill="#262626" text-anchor="end">200</text>
<text x="96.1" y="851.6" font-family="'Liberation Sans', Arial, sans-serif" font-size="31" fill="#262626" text-anchor="end">100</text>
<text x="96.1" y="951.7" font-family="'Liberation Sans', Arial, sans-serif" font-size="31" fill="#262626" text-anchor="end">0</text>
<text x="96.1" y="1051.8" font-family="'Liberation Sans', Arial, sans-serif" font-size="31" fill="#262626" text-anchor="end">-100</text>
<text x="103.4" y="1128.1" font-family="'Liberation Sans', Arial, sans-serif" font-size="31" fill="#262626" text-anchor="middle">0</text>
<text x="219.4" y="1128.1" font-family="'Liberation Sans', Arial, sans-serif" font-size="31" fill="#262626" text-anchor="middle">2</text>
<text x="335.4" y="1128.1" font-family="'Liberation Sans', Arial, sans-serif" font-size="31" fill="#262626" text-anchor="middle">4</text>
<text x="451.4" y="1128.1" font-family="'Liberation Sans', Arial, sans-serif" font-size="31" fill="#262626" text-anchor="middle">6</text>
<text x="567.4" y="1128.1" font-family="'Liberation Sans', Arial, sans-serif" font-size="31" fill="#262626" text-anchor="middle">8</text>
<text x="683.4" y="1128.1" font-family="'Liberation Sans', Arial, sans-serif" font-size="31" fill="#262626" text-anchor="middle">10</text>
<text x="0" y="0" transform="translate(24.4,914.4) rotate(-90)" font-family="'Liberation Sans', Arial, sans-serif" font-size="30" fill="#262626" text-anchor="middle" textLength="200" lengthAdjust="spacingAndGlyphs">Joint Angles(°)</text>
<text x="218.3" y="1167.2" font-family="'Liberation Sans', Arial, sans-serif" font-size="41.2" fill="#000" text-anchor="start" textLength="91" lengthAdjust="spacingAndGlyphs">(b-1)</text>
<text x="341.6" y="1166" font-family="'Liberation Sans', Arial, sans-serif" font-size="30" fill="#262626" text-anchor="start" textLength="103.4" lengthAdjust="spacingAndGlyphs">Time(s)</text>
</g>
<g>
<line x1="982.6" y1="737.6" x2="982.6" y2="1087.8" stroke="#dcdcdc" stroke-width="2"/>
<line x1="1098.8" y1="737.6" x2="1098.8" y2="1087.8" stroke="#dcdcdc" stroke-width="2"/>
<line x1="1215" y1="737.6" x2="1215" y2="1087.8" stroke="#dcdcdc" stroke-width="2"/>
<line x1="1331.2" y1="737.6" x2="1331.2" y2="1087.8" stroke="#dcdcdc" stroke-width="2"/>
<line x1="866.4" y1="825.2" x2="1447.4" y2="825.2" stroke="#dcdcdc" stroke-width="2"/>
<line x1="866.4" y1="912.7" x2="1447.4" y2="912.7" stroke="#dcdcdc" stroke-width="2"/>
<line x1="866.4" y1="1000.2" x2="1447.4" y2="1000.2" stroke="#dcdcdc" stroke-width="2"/>
<path d="M982.6 737.6V745.6M982.6 1087.8V1079.8M1098.8 737.6V745.6M1098.8 1087.8V1079.8M1215 737.6V745.6M1215 1087.8V1079.8M1331.2 737.6V745.6M1331.2 1087.8V1079.8M866.4 825.2H874.4M1447.4 825.2H1439.4M866.4 912.7H874.4M1447.4 912.7H1439.4M866.4 1000.2H874.4M1447.4 1000.2H1439.4" stroke="#262626" stroke-width="3.6" fill="none"/>
<rect x="866.4" y="737.6" width="581" height="350.2" fill="none" stroke="#262626" stroke-width="3.6"/>
<clipPath id="clip_b2"><rect x="864.8" y="736" width="584.2" height="353.4"/></clipPath>
<g clip-path="url(#clip_b2)" fill="none" stroke-width="3.2" stroke-linejoin="round">
<path d="M866.4 777 L1447.4 777" stroke="#ff0000"/>
<path d="M866.4 1025L866.4 1017.4Q866.4 1015.8 868 1016.3L868.3 1016.5Q869.9 1017.1 871.5 1017.6L895.3 1025.6Q897.9 1026.4 899.6 1028.5L899.9 1029Q901.6 1031.1 903 1033.4L908.6 1042.5Q910.2 1045.1 911.5 1042.4L916.3 1032.7Q917.6 1030 919 1027.4L924.3 1017.3Q925.1 1015.7 926.8 1016.3L927.2 1016.4Q928.9 1017.1 930.6 1017.6L954.3 1025.6Q956.8 1026.4 958.5 1028.5L958.9 1029Q960.6 1031.1 962 1033.4L967.6 1042.5Q969.2 1045.1 970.6 1042.4L975.4 1032.7Q976.7 1030 978.1 1027.4L983.4 1017.3Q984.3 1015.7 986 1016.3L986.4 1016.4Q988.1 1017.1 989.8 1017.6L1013.7 1025.6Q1016.3 1026.4 1018 1028.5L1018.4 1029Q1020.1 1031.1 1021.5 1033.4L1027.1 1042.5Q1028.7 1045.1 1030 1042.4L1034.9 1032.7Q1036.2 1030 1037.6 1027.4L1042.8 1017.3Q1043.7 1015.7 1045.4 1016.3L1045.8 1016.4Q1047.5 1017.1 1049.2 1017.6L1073 1025.6Q1075.6 1026.4 1077.3 1028.5L1077.7 1029Q1079.4 1031.1 1080.8 1033.4L1086.5 1042.5Q1088 1045.1 1089.4 1042.4L1094.2 1032.7Q1095.6 1030 1097 1027.4L1102.3 1017.3Q1103.1 1015.7 1104.8 1016.3L1105.2 1016.4Q1106.9 1017.1 1108.7 1017.6L1132.6 1025.6Q1135.2 1026.4 1136.9 1028.5L1137.3 1029Q1139 1031.1 1140.4 1033.4L1146 1042.5Q1147.6 1045.1 1148.9 1042.4L1153.6 1032.7Q1155 1030 1156.3 1027.4L1161.5 1017.3Q1162.4 1015.7 1164.1 1016.3L1164.4 1016.4Q1166.1 1017.1 1167.8 1017.6L1191.3 1025.6Q1193.9 1026.4 1195.6 1028.5L1195.9 1029Q1197.6 1031.1 1199 1033.4L1204.6 1042.5Q1206.1 1045.1 1207.5 1042.4L1212.3 1032.7Q1213.6 1030 1215 1027.4L1220.2 1017.3Q1221 1015.7 1222.7 1016.3L1223.1 1016.4Q1224.8 1017.1 1226.5 1017.6L1250.2 1025.6Q1252.7 1026.4 1254.4 1028.5L1254.8 1029Q1256.5 1031.1 1258 1033.3L1263.8 1042.5Q1265.4 1045.1 1266.8 1042.4L1272 1032.7Q1273.4 1030 1274.8 1027.4L1280.4 1017.3Q1281.3 1015.7 1283.1 1016.3L1283.5 1016.4Q1285.3 1017.1 1287.1 1017.6L1312.4 1025.6Q1315.1 1026.4 1316.9 1028.5L1317.3 1029Q1319.1 1031.1 1320.6 1033.4L1326.7 1042.6Q1328.4 1045.1 1329.8 1042.4L1335.1 1032.7Q1336.6 1030 1338.1 1027.4L1343.8 1017.4Q1344.8 1015.7 1346.6 1016.3L1347 1016.4Q1348.9 1017.1 1350.8 1017.6L1376.9 1025.6Q1379.6 1026.4 1381.4 1028.5L1381.9 1029Q1383.7 1031.1 1385.3 1033.4L1391.4 1042.6Q1393.1 1045.1 1394.5 1042.4L1399.9 1032.7Q1401.3 1030 1402.8 1027.4L1409.2 1016.2Q1409.5 1015.7 1410.1 1015.9L1410.2 1015.9Q1410.8 1016.1 1410.8 1016.7L1410.8 1022Q1410.8 1025 1413.8 1025L1447.4 1025" stroke="#00ff00"/>
<path d="M866.4 933.7L866.4 867.3L866.4 867.3L867.7 869.1Q868.8 870.7 869.4 872.5L870.7 876.6Q871.6 879.4 872.7 882.2L875.1 888Q876.3 890.8 877.8 893.4L884.1 904.2Q885.6 906.7 886.9 909.5L893.7 923.6Q895 926.4 896.3 929L897 930.3Q898.4 932.9 899.5 930.1L901.4 925.1Q902.5 922.3 902.9 919.4L904.9 905Q905.3 902 905.7 899L906.8 890.9Q907.2 887.9 907.8 885L909.4 876.6Q910 873.8 911.3 871.3L912.3 869.4Q912.9 868.3 914.1 868.1L914.4 868Q915.7 867.8 916.7 868.5L917.8 869.2Q919.3 870.2 921 870.7L921.4 870.9Q923.1 871.5 924 869.9L924.5 868.9Q925.4 867.3 926.5 868.8L926.7 869.1Q927.8 870.7 928.4 872.5L929.7 876.6Q930.6 879.4 931.7 882.2L934.1 888Q935.3 890.8 936.8 893.4L943.1 904.2Q944.6 906.7 945.9 909.5L952.7 923.6Q953.9 926.4 955.3 929L956 930.3Q957.3 932.9 958.4 930.1L960.4 925.1Q961.5 922.3 961.9 919.4L963.9 905Q964.3 902 964.7 899L965.8 890.9Q966.2 887.9 966.8 885L968.5 876.6Q969 873.8 970.3 871.3L971.3 869.4Q971.9 868.3 973.2 868.1L973.5 868Q974.7 867.8 975.8 868.5L976.9 869.2Q978.4 870.2 980.2 870.7L980.5 870.9Q982.3 871.5 983.1 869.9L983.7 868.9Q984.6 867.3 985.6 868.8L985.9 869.1Q987 870.7 987.5 872.5L988.9 876.6Q989.8 879.4 990.9 882.2L993.3 888Q994.5 890.8 996 893.4L1002.4 904.2Q1003.9 906.7 1005.2 909.5L1012.1 923.7Q1013.4 926.4 1014.7 929L1015.4 930.3Q1016.8 932.9 1017.9 930.1L1019.9 925.1Q1021 922.3 1021.4 919.4L1023.4 905Q1023.8 902 1024.2 899L1025.3 890.9Q1025.7 887.9 1026.3 885L1027.9 876.6Q1028.5 873.8 1029.8 871.3L1030.8 869.4Q1031.4 868.3 1032.6 868.1L1032.9 868Q1034.2 867.8 1035.3 868.5L1036.4 869.2Q1037.9 870.2 1039.6 870.7L1040 870.9Q1041.7 871.5 1042.6 869.9L1043.1 868.9Q1044 867.3 1045.1 868.8L1045.3 869.1Q1046.4 870.7 1047 872.5L1048.3 876.6Q1049.2 879.4 1050.3 882.2L1052.8 888Q1053.9 890.8 1055.4 893.4L1061.8 904.2Q1063.3 906.7 1064.6 909.5L1071.4 923.7Q1072.7 926.4 1074.1 929L1074.7 930.3Q1076.1 932.9 1077.2 930.1L1079.2 925.1Q1080.3 922.3 1080.7 919.4L1082.7 905Q1083.1 902 1083.5 899L1084.6 890.9Q1085 887.9 1085.6 885L1087.3 876.6Q1087.8 873.8 1089.1 871.3L1090.1 869.5Q1090.7 868.3 1092 868.1L1092.3 868Q1093.6 867.8 1094.7 868.5L1095.7 869.2Q1097.3 870.2 1099 870.7L1099.4 870.9Q1101.1 871.5 1102 869.9L1102.5 868.9Q1103.4 867.3 1104.5 868.8L1104.7 869.1Q1105.8 870.7 1106.4 872.5L1107.7 876.6Q1108.6 879.4 1109.8 882.2L1112.2 888Q1113.4 890.8 1114.9 893.4L1121.3 904.2Q1122.8 906.7 1124.1 909.4L1131 923.7Q1132.3 926.4 1133.6 929L1134.3 930.3Q1135.7 932.9 1136.8 930.1L1138.8 925.1Q1139.9 922.3 1140.3 919.4L1142.3 905Q1142.7 902 1143.1 899L1144.2 890.9Q1144.6 887.9 1145.2 885L1146.8 876.6Q1147.4 873.8 1148.6 871.3L1149.6 869.4Q1150.2 868.3 1151.5 868.1L1151.7 868Q1153 867.8 1154 868.5L1155.1 869.2Q1156.6 870.2 1158.3 870.7L1158.7 870.9Q1160.4 871.5 1161.2 869.9L1161.8 868.9Q1162.7 867.3 1163.7 868.8L1164 869.1Q1165 870.7 1165.6 872.5L1166.9 876.6Q1167.8 879.4 1168.9 882.2L1171.3 888Q1172.4 890.8 1173.9 893.4L1180.2 904.2Q1181.7 906.7 1183 909.5L1189.7 923.6Q1191 926.4 1192.4 929L1193 930.3Q1194.4 932.9 1195.5 930.1L1197.4 925.1Q1198.5 922.3 1198.9 919.4L1200.9 905Q1201.3 902 1201.7 899L1202.8 890.9Q1203.2 887.9 1203.7 885L1205.4 876.6Q1205.9 873.8 1207.2 871.3L1208.2 869.4Q1208.8 868.3 1210.1 868.1L1210.4 868Q1211.6 867.8 1212.7 868.5L1213.8 869.2Q1215.3 870.2 1217 870.7L1217.4 870.9Q1219.1 871.5 1219.9 869.9L1220.5 868.9Q1221.3 867.3 1222.4 868.8L1222.7 869.1Q1223.7 870.7 1224.3 872.5L1225.6 876.6Q1226.5 879.4 1227.7 882.2L1230 888Q1231.2 890.8 1232.7 893.4L1239 904.2Q1240.5 906.7 1241.8 909.5L1248.6 923.6Q1249.9 926.4 1251.2 929L1251.9 930.3Q1253.2 932.9 1254.3 930.1L1256.3 925.1Q1257.4 922.3 1257.8 919.4L1259.8 905Q1260.2 902 1260.6 899L1261.8 890.9Q1262.2 887.9 1262.8 885L1264.6 876.6Q1265.2 873.8 1266.6 871.3L1267.6 869.5Q1268.3 868.3 1269.6 868.1L1269.9 868Q1271.2 867.8 1272.4 868.5L1273.5 869.2Q1275.2 870.2 1277 870.7L1277.4 870.9Q1279.2 871.5 1280.1 869.8L1280.7 868.9Q1281.6 867.3 1282.8 868.8L1283 869.1Q1284.2 870.7 1284.8 872.5L1286.2 876.6Q1287.1 879.4 1288.3 882.2L1290.9 888.1Q1292.1 890.8 1293.7 893.4L1300.5 904.2Q1302.1 906.7 1303.4 909.4L1310.7 923.7Q1312 926.4 1313.5 929L1314.2 930.3Q1315.6 932.9 1316.8 930.2L1318.9 925.1Q1320.1 922.3 1320.5 919.4L1322.6 905Q1323 902 1323.5 899.1L1324.7 890.9Q1325.1 887.9 1325.7 885L1327.6 876.6Q1328.2 873.8 1329.6 871.3L1330.6 869.5Q1331.3 868.3 1332.7 868.1L1333 868Q1334.4 867.8 1335.6 868.5L1336.7 869.2Q1338.4 870.2 1340.3 870.7L1340.7 870.9Q1342.6 871.5 1343.6 869.8L1344.1 868.9Q1345.1 867.3 1346.3 868.8L1346.5 869.1Q1347.7 870.7 1348.3 872.5L1349.8 876.6Q1350.8 879.4 1352 882.2L1354.7 888.1Q1355.9 890.8 1357.5 893.3L1364.5 904.2Q1366.2 906.7 1367.5 909.4L1375 923.7Q1376.4 926.4 1377.9 929L1378.6 930.3Q1380.1 932.9 1381.3 930.2L1383.5 925.1Q1384.7 922.3 1385.2 919.4L1387.3 905Q1387.8 902 1388.2 899.1L1389.4 890.9Q1389.8 887.9 1390.5 885L1392.3 876.6Q1392.9 873.8 1394.3 871.3L1395.4 869.5Q1396.1 868.3 1397.4 868.1L1397.7 868Q1399.1 867.8 1400.3 868.5L1401.5 869.2Q1403.2 870.2 1405 870.7L1405.4 870.9Q1407.3 871.5 1408.3 869.8L1409.4 867.9Q1409.8 867.3 1410.3 867.8L1410.4 868Q1410.8 868.5 1410.8 869.3L1410.8 930.7Q1410.8 933.7 1413.8 933.7L1447.4 933.7" stroke="#0000ff"/>
<path d="M866.4 816.7L866.4 889.5Q866.4 890.1 866.5 890.6L866.5 890.7Q866.6 891.3 866.7 890.7L869.4 876.8Q869.9 873.8 870.6 870.9L873 859.9Q873.6 857 874.8 854.3L878.1 846.6Q879.3 843.8 880.6 841.1L884.4 833.4Q885.7 830.8 887.4 828.3L890.6 823.8Q892.3 821.4 894.4 819.3L896.4 817.3Q897.9 815.8 899.2 814.1L899.4 813.7Q900.7 812 901.2 809.9L902 806.8Q902.5 804.5 903.6 802.4L903.9 801.8Q904.9 799.8 906.4 801.5L906.7 801.8Q908.2 803.5 908.7 805.7L910.3 812.9Q911 815.8 911.6 818.7L913.2 826.9Q913.8 829.9 914.5 832.8L916.9 842.8Q917.5 845.7 918.1 848.7L920.7 861.6Q921.2 864.5 921.7 867.5L923.6 880.3Q924 883.3 924.6 886.2L925 888.3Q925.6 891.3 926.2 888.3L928.3 876.8Q928.9 873.8 929.5 870.9L931.9 859.9Q932.6 857 933.7 854.3L937.1 846.6Q938.2 843.8 939.6 841.1L943.4 833.4Q944.7 830.8 946.4 828.3L949.5 823.8Q951.3 821.4 953.4 819.3L955.3 817.3Q956.8 815.8 958.1 814.1L958.4 813.7Q959.7 812 960.2 809.9L961 806.8Q961.5 804.5 962.6 802.4L962.9 801.8Q963.9 799.8 965.4 801.5L965.7 801.8Q967.2 803.5 967.7 805.7L969.3 812.9Q970 815.8 970.6 818.7L972.2 826.9Q972.8 829.9 973.5 832.8L975.9 842.8Q976.6 845.7 977.2 848.7L979.8 861.6Q980.3 864.5 980.8 867.5L982.7 880.3Q983.2 883.3 983.7 886.2L984.2 888.3Q984.8 891.3 985.3 888.3L987.5 876.8Q988.1 873.8 988.7 870.9L991.1 859.9Q991.8 857 993 854.3L996.3 846.6Q997.5 843.8 998.8 841.1L1002.7 833.4Q1004 830.8 1005.8 828.3L1008.9 823.8Q1010.6 821.4 1012.8 819.3L1014.7 817.3Q1016.3 815.8 1017.6 814.1L1017.9 813.7Q1019.2 812 1019.7 809.9L1020.4 806.8Q1021 804.5 1022.1 802.4L1022.4 801.8Q1023.4 799.8 1024.9 801.5L1025.2 801.8Q1026.7 803.5 1027.2 805.7L1028.8 812.9Q1029.5 815.8 1030.1 818.7L1031.7 826.9Q1032.3 829.9 1033 832.8L1035.4 842.8Q1036.1 845.7 1036.7 848.7L1039.2 861.6Q1039.8 864.5 1040.2 867.5L1042.1 880.3Q1042.6 883.3 1043.2 886.2L1043.6 888.3Q1044.2 891.3 1044.8 888.3L1046.9 876.8Q1047.5 873.8 1048.1 870.9L1050.6 859.9Q1051.2 857 1052.4 854.3L1055.7 846.6Q1056.9 843.8 1058.2 841.1L1062.1 833.4Q1063.4 830.8 1065.1 828.3L1068.3 823.8Q1070 821.4 1072.1 819.3L1074.1 817.3Q1075.6 815.8 1076.9 814.1L1077.2 813.7Q1078.5 812 1079 809.9L1079.8 806.8Q1080.3 804.5 1081.4 802.4L1081.7 801.8Q1082.7 799.8 1084.2 801.5L1084.5 801.8Q1086 803.5 1086.5 805.7L1088.2 812.9Q1088.8 815.8 1089.4 818.7L1091.1 826.9Q1091.7 829.9 1092.4 832.8L1094.8 842.8Q1095.5 845.7 1096.1 848.7L1098.6 861.6Q1099.2 864.5 1099.6 867.5L1101.6 880.3Q1102 883.3 1102.6 886.2L1103 888.3Q1103.6 891.3 1104.2 888.3L1106.4 876.8Q1106.9 873.8 1107.6 870.9L1110 859.9Q1110.7 857 1111.8 854.3L1115.2 846.6Q1116.4 843.8 1117.7 841.1L1121.6 833.4Q1122.9 830.8 1124.6 828.3L1127.8 823.8Q1129.6 821.4 1131.7 819.3L1133.7 817.3Q1135.2 815.8 1136.5 814.1L1136.8 813.7Q1138.1 812 1138.6 809.9L1139.3 806.8Q1139.9 804.5 1141 802.4L1141.3 801.8Q1142.3 799.8 1143.8 801.5L1144.1 801.8Q1145.6 803.5 1146.1 805.7L1147.7 812.9Q1148.3 815.8 1148.9 818.7L1150.5 826.9Q1151.1 829.9 1151.8 832.8L1154.2 842.8Q1154.9 845.7 1155.4 848.7L1157.9 861.6Q1158.5 864.5 1159 867.5L1160.8 880.3Q1161.3 883.3 1161.9 886.2L1162.3 888.3Q1162.9 891.3 1163.4 888.3L1165.6 876.8Q1166.1 873.8 1166.8 870.9L1169.1 859.9Q1169.8 857 1170.9 854.3L1174.2 846.6Q1175.4 843.8 1176.7 841.1L1180.5 833.4Q1181.8 830.8 1183.5 828.3L1186.6 823.8Q1188.3 821.4 1190.4 819.3L1192.4 817.3Q1193.9 815.8 1195.2 814.1L1195.4 813.7Q1196.7 812 1197.2 809.9L1198 806.8Q1198.5 804.5 1199.6 802.4L1199.9 801.8Q1200.9 799.8 1202.4 801.5L1202.7 801.8Q1204.2 803.5 1204.7 805.7L1206.3 812.9Q1206.9 815.8 1207.5 818.7L1209.1 826.9Q1209.7 829.9 1210.4 832.8L1212.8 842.8Q1213.5 845.7 1214.1 848.7L1216.6 861.6Q1217.2 864.5 1217.6 867.5L1219.5 880.3Q1220 883.3 1220.5 886.2L1221 888.3Q1221.5 891.3 1222.1 888.3L1224.3 876.8Q1224.8 873.8 1225.5 870.9L1227.9 859.9Q1228.5 857 1229.7 854.3L1233 846.6Q1234.2 843.8 1235.5 841.1L1239.3 833.4Q1240.6 830.8 1242.3 828.3L1245.5 823.8Q1247.2 821.4 1249.3 819.3L1251.2 817.3Q1252.7 815.8 1254 814.1L1254.3 813.7Q1255.6 812 1256.1 809.9L1256.9 806.8Q1257.4 804.5 1258.5 802.4L1258.8 801.8Q1259.8 799.8 1261.4 801.5L1261.7 801.8Q1263.3 803.5 1263.8 805.8L1265.6 812.9Q1266.3 815.8 1266.9 818.7L1268.6 826.9Q1269.2 829.9 1270 832.8L1272.5 842.8Q1273.2 845.7 1273.9 848.7L1276.6 861.6Q1277.2 864.5 1277.6 867.5L1279.7 880.3Q1280.1 883.3 1280.8 886.2L1281.2 888.3Q1281.8 891.3 1282.4 888.3L1284.7 876.8Q1285.3 873.8 1286 870.9L1288.6 859.9Q1289.2 857 1290.5 854.3L1294 846.5Q1295.3 843.8 1296.7 841.1L1300.8 833.4Q1302.2 830.8 1304 828.3L1307.4 823.8Q1309.2 821.4 1311.3 819.3L1313.5 817.3Q1315.1 815.8 1316.5 814.1L1316.8 813.7Q1318.2 812 1318.7 809.9L1319.5 806.8Q1320.1 804.5 1321.2 802.4L1321.5 801.8Q1322.6 799.8 1324.2 801.5L1324.6 801.8Q1326.2 803.5 1326.8 805.8L1328.5 812.9Q1329.3 815.8 1329.9 818.7L1331.7 826.9Q1332.3 829.9 1333.1 832.8L1335.7 842.8Q1336.5 845.7 1337.1 848.7L1339.9 861.6Q1340.5 864.5 1341 867.5L1343.1 880.3Q1343.6 883.3 1344.2 886.2L1344.7 888.3Q1345.3 891.3 1345.9 888.3L1348.3 876.8Q1348.9 873.8 1349.6 870.9L1352.2 859.9Q1352.9 857 1354.2 854.3L1357.9 846.5Q1359.2 843.8 1360.6 841.2L1364.8 833.4Q1366.3 830.8 1368.1 828.4L1371.6 823.8Q1373.5 821.4 1375.7 819.4L1377.9 817.3Q1379.6 815.8 1381 814.1L1381.3 813.7Q1382.7 812 1383.3 809.9L1384.1 806.8Q1384.7 804.5 1385.9 802.4L1386.2 801.8Q1387.3 799.8 1388.9 801.5L1389.3 801.8Q1390.9 803.5 1391.5 805.8L1393.3 812.9Q1394 815.8 1394.6 818.7L1396.4 826.9Q1397 829.9 1397.8 832.8L1400.4 842.8Q1401.2 845.7 1401.8 848.7L1404.6 861.6Q1405.2 864.5 1405.7 867.5L1407.8 880.3Q1408.3 883.3 1408.9 886.2L1409.7 889.6Q1410 891.3 1410.4 889.6L1410.5 889.2Q1410.8 887.5 1410.8 885.8L1410.8 819.7Q1410.8 816.7 1413.8 816.7L1447.4 816.7" stroke="#00ffff"/>
<path d="M866.4 988.2L866.4 981.9Q866.4 981.6 866.5 981.3L866.5 981.2Q866.6 980.9 866.8 981.2L868.5 984.3Q869.9 986.9 871.8 989.3L872.7 990.3Q874.6 992.6 877.5 993.5L880.1 994.2Q882.9 995 885.7 993.9L888.7 992.7Q891.4 991.7 893.9 990.2L894.5 989.8Q897 988.3 898 991.1L898.7 992.6Q899.7 995.4 900.3 998.4L903 1013.1Q903.5 1016 904.1 1019L906.7 1033.9Q907.2 1036.7 908.6 1039.2L908.8 1039.8Q910.2 1042.3 910.9 1039.5L916 1018.9Q916.8 1016 917.4 1013.1L921.7 993.7Q922.3 990.8 923.3 987.9L924.7 983.7Q925.6 980.9 927 983.5L927.5 984.3Q928.9 986.9 930.8 989.3L931.7 990.3Q933.6 992.6 936.4 993.5L939 994.2Q941.9 995 944.7 993.9L947.7 992.7Q950.4 991.7 952.9 990.2L953.4 989.8Q955.9 988.3 957 991.1L957.6 992.6Q958.7 995.4 959.3 998.4L962 1013.1Q962.5 1016 963 1019L965.7 1033.9Q966.2 1036.7 967.6 1039.2L967.9 1039.8Q969.2 1042.3 969.9 1039.5L975.1 1018.9Q975.8 1016 976.5 1013.1L980.8 993.7Q981.4 990.8 982.4 987.9L983.8 983.7Q984.8 980.9 986.2 983.5L986.6 984.3Q988.1 986.9 990 989.3L990.9 990.3Q992.8 992.6 995.7 993.4L998.3 994.2Q1001.2 995 1004 993.9L1007 992.7Q1009.7 991.7 1012.3 990.2L1012.8 989.8Q1015.4 988.3 1016.4 991.1L1017.1 992.6Q1018.2 995.4 1018.7 998.4L1021.4 1013.1Q1022 1016 1022.5 1019L1025.2 1033.9Q1025.7 1036.7 1027 1039.2L1027.3 1039.8Q1028.7 1042.3 1029.4 1039.5L1034.6 1018.9Q1035.3 1016 1035.9 1013.1L1040.2 993.7Q1040.9 990.8 1041.8 987.9L1043.2 983.7Q1044.2 980.9 1045.6 983.5L1046.1 984.3Q1047.5 986.9 1049.4 989.3L1050.3 990.3Q1052.2 992.6 1055.1 993.4L1057.7 994.2Q1060.6 995 1063.4 993.9L1066.4 992.7Q1069.1 991.7 1071.6 990.2L1072.2 989.8Q1074.7 988.3 1075.8 991.1L1076.4 992.6Q1077.5 995.4 1078 998.4L1080.8 1013.1Q1081.3 1016 1081.8 1019L1084.5 1033.9Q1085 1036.7 1086.4 1039.2L1086.7 1039.8Q1088 1042.3 1088.7 1039.5L1093.9 1018.9Q1094.7 1016 1095.3 1013.1L1099.6 993.7Q1100.3 990.8 1101.3 988L1102.7 983.7Q1103.6 980.9 1105.1 983.5L1105.5 984.3Q1106.9 986.9 1108.8 989.3L1109.7 990.3Q1111.7 992.6 1114.5 993.4L1117.2 994.2Q1120.1 995 1122.9 993.9L1125.9 992.7Q1128.6 991.7 1131.2 990.2L1131.7 989.8Q1134.3 988.3 1135.4 991.1L1136 992.6Q1137.1 995.4 1137.6 998.4L1140.4 1013.1Q1140.9 1016 1141.4 1019L1144.1 1033.9Q1144.6 1036.7 1145.9 1039.2L1146.2 1039.8Q1147.6 1042.3 1148.2 1039.5L1153.3 1018.9Q1154.1 1016 1154.7 1013.1L1159 993.7Q1159.6 990.8 1160.5 987.9L1161.9 983.8Q1162.9 980.9 1164.3 983.5L1164.7 984.3Q1166.1 986.9 1168 989.3L1168.9 990.3Q1170.8 992.6 1173.6 993.5L1176.2 994.2Q1179.1 995 1181.8 993.9L1184.8 992.7Q1187.5 991.7 1189.9 990.2L1190.5 989.8Q1193 988.3 1194 991L1194.7 992.6Q1195.7 995.4 1196.3 998.4L1199 1013.1Q1199.5 1016 1200 1019L1202.7 1033.9Q1203.2 1036.7 1204.5 1039.2L1204.8 1039.8Q1206.1 1042.3 1206.8 1039.5L1212 1018.9Q1212.7 1016 1213.4 1013.1L1217.6 993.7Q1218.3 990.8 1219.2 987.9L1220.6 983.7Q1221.5 980.9 1223 983.5L1223.4 984.3Q1224.8 986.9 1226.7 989.3L1227.6 990.3Q1229.5 992.6 1232.4 993.5L1235 994.2Q1237.8 995 1240.6 993.9L1243.6 992.7Q1246.3 991.7 1248.8 990.2L1249.3 989.8Q1251.8 988.3 1252.9 991.1L1253.5 992.6Q1254.6 995.4 1255.2 998.4L1257.9 1013.1Q1258.4 1016 1259 1019L1261.7 1033.8Q1262.2 1036.7 1263.7 1039.2L1264 1039.8Q1265.4 1042.3 1266.2 1039.5L1271.6 1018.9Q1272.4 1016 1273.1 1013.1L1277.6 993.7Q1278.3 990.8 1279.3 988L1280.8 983.7Q1281.8 980.9 1283.3 983.5L1283.8 984.3Q1285.3 986.9 1287.3 989.2L1288.3 990.4Q1290.3 992.6 1293.2 993.4L1296.3 994.2Q1299.2 995 1302 994L1305.4 992.7Q1308.2 991.7 1310.8 990.2L1311.5 989.8Q1314.1 988.3 1315.3 991.1L1315.9 992.7Q1317.1 995.4 1317.7 998.4L1320.5 1013.1Q1321.1 1016 1321.7 1019L1324.6 1033.8Q1325.1 1036.7 1326.6 1039.2L1326.9 1039.8Q1328.4 1042.3 1329.2 1039.5L1334.8 1018.9Q1335.6 1016 1336.3 1013.1L1341 993.7Q1341.7 990.8 1342.7 988L1344.3 983.7Q1345.3 980.9 1346.8 983.5L1347.4 984.4Q1348.9 986.9 1350.9 989.2L1352 990.4Q1354 992.6 1356.9 993.4L1360.3 994.2Q1363.2 995 1366 994L1369.7 992.7Q1372.5 991.7 1375.1 990.2L1376 989.8Q1378.6 988.3 1379.8 991.1L1380.5 992.7Q1381.6 995.4 1382.2 998.4L1385.2 1013.1Q1385.8 1016 1386.4 1019L1389.3 1033.8Q1389.8 1036.7 1391.3 1039.2L1391.6 1039.8Q1393.1 1042.3 1393.9 1039.5L1399.5 1018.9Q1400.3 1016 1401 1013.1L1405.7 993.7Q1406.4 990.8 1407.5 988L1409.8 981.5Q1410 980.9 1410.4 981.5L1410.5 981.6Q1410.8 982.2 1410.8 982.9L1410.8 985.5Q1410.8 988.2 1413.5 988.2L1447.4 988.2" stroke="#000000"/>
</g>
<text x="859.1" y="749.9" font-family="'Liberation Sans', Arial, sans-serif" font-size="31" fill="#262626" text-anchor="end">200</text>
<text x="859.1" y="837.5" font-family="'Liberation Sans', Arial, sans-serif" font-size="31" fill="#262626" text-anchor="end">100</text>
<text x="859.1" y="925" font-family="'Liberation Sans', Arial, sans-serif" font-size="31" fill="#262626" text-anchor="end">0</text>
<text x="859.1" y="1012.5" font-family="'Liberation Sans', Arial, sans-serif" font-size="31" fill="#262626" text-anchor="end">-100</text>
<text x="859.1" y="1100.1" font-family="'Liberation Sans', Arial, sans-serif" font-size="31" fill="#262626" text-anchor="end">-200</text>
<text x="866.4" y="1126.3" font-family="'Liberation Sans', Arial, sans-serif" font-size="31" fill="#262626" text-anchor="middle">0</text>
<text x="982.6" y="1126.3" font-family="'Liberation Sans', Arial, sans-serif" font-size="31" fill="#262626" text-anchor="middle">2</text>
<text x="1098.8" y="1126.3" font-family="'Liberation Sans', Arial, sans-serif" font-size="31" fill="#262626" text-anchor="middle">4</text>
<text x="1215" y="1126.3" font-family="'Liberation Sans', Arial, sans-serif" font-size="31" fill="#262626" text-anchor="middle">6</text>
<text x="1331.2" y="1126.3" font-family="'Liberation Sans', Arial, sans-serif" font-size="31" fill="#262626" text-anchor="middle">8</text>
<text x="1447.4" y="1126.3" font-family="'Liberation Sans', Arial, sans-serif" font-size="31" fill="#262626" text-anchor="middle">10</text>
<text x="0" y="0" transform="translate(787.4,912.7) rotate(-90)" font-family="'Liberation Sans', Arial, sans-serif" font-size="30" fill="#262626" text-anchor="middle" textLength="200" lengthAdjust="spacingAndGlyphs">Joint Angles(°)</text>
<text x="983.5" y="1167.1" font-family="'Liberation Sans', Arial, sans-serif" font-size="41.2" fill="#000" text-anchor="start" textLength="89.5" lengthAdjust="spacingAndGlyphs">(b-2)</text>
<text x="1105.5" y="1164.6" font-family="'Liberation Sans', Arial, sans-serif" font-size="31.3" fill="#262626" text-anchor="start" textLength="104" lengthAdjust="spacingAndGlyphs">Time(s)</text>
</g>
<g>
<line x1="219.4" y1="1351.3" x2="219.4" y2="1700.7" stroke="#dcdcdc" stroke-width="2"/>
<line x1="335.4" y1="1351.3" x2="335.4" y2="1700.7" stroke="#dcdcdc" stroke-width="2"/>
<line x1="451.4" y1="1351.3" x2="451.4" y2="1700.7" stroke="#dcdcdc" stroke-width="2"/>
<line x1="567.4" y1="1351.3" x2="567.4" y2="1700.7" stroke="#dcdcdc" stroke-width="2"/>
<line x1="103.4" y1="1429" x2="683.4" y2="1429" stroke="#dcdcdc" stroke-width="2"/>
<line x1="103.4" y1="1506.6" x2="683.4" y2="1506.6" stroke="#dcdcdc" stroke-width="2"/>
<line x1="103.4" y1="1584.2" x2="683.4" y2="1584.2" stroke="#dcdcdc" stroke-width="2"/>
<line x1="103.4" y1="1661.9" x2="683.4" y2="1661.9" stroke="#dcdcdc" stroke-width="2"/>
<path d="M219.4 1351.3V1359.3M219.4 1700.7V1692.7M335.4 1351.3V1359.3M335.4 1700.7V1692.7M451.4 1351.3V1359.3M451.4 1700.7V1692.7M567.4 1351.3V1359.3M567.4 1700.7V1692.7M103.4 1429H111.4M683.4 1429H675.4M103.4 1506.6H111.4M683.4 1506.6H675.4M103.4 1584.2H111.4M683.4 1584.2H675.4M103.4 1661.9H111.4M683.4 1661.9H675.4" stroke="#262626" stroke-width="3.6" fill="none"/>
<rect x="103.4" y="1351.3" width="580" height="349.4" fill="none" stroke="#262626" stroke-width="3.6"/>
<clipPath id="clip_c1"><rect x="101.8" y="1349.7" width="583.2" height="352.6"/></clipPath>
<g clip-path="url(#clip_c1)" fill="none" stroke-width="3.2" stroke-linejoin="round">
<path d="M103.4 1566.8 L683.4 1566.8" stroke="#ff0000"/>
<path d="M103.4 1552.8L103.4 1554.9Q103.4 1556.5 105.1 1556.2L129.5 1552Q132.4 1551.4 134.7 1553.4L136.2 1554.6Q138.5 1556.5 140.2 1558.9L144.2 1564.6Q145.5 1566.5 147.8 1566.5L148.3 1566.5Q150.5 1566.5 151.9 1564.7L155.7 1559.9Q157.6 1557.5 160.5 1557L189.1 1552Q192.1 1551.4 194.4 1553.4L195.8 1554.6Q198.1 1556.5 199.8 1558.9L203.8 1564.6Q205.1 1566.5 207.4 1566.5L207.9 1566.5Q210.1 1566.5 211.5 1564.7L215.3 1559.9Q217.2 1557.5 220.1 1557L248.6 1552Q251.6 1551.4 253.9 1553.4L255.3 1554.6Q257.6 1556.5 259.3 1558.9L263.3 1564.6Q264.6 1566.5 266.9 1566.5L267.4 1566.5Q269.6 1566.5 271 1564.7L274.8 1559.9Q276.6 1557.5 279.6 1557L307.9 1552Q310.9 1551.4 313.2 1553.4L314.6 1554.6Q316.9 1556.5 318.6 1558.9L322.6 1564.6Q323.9 1566.5 326.1 1566.5L326.6 1566.5Q328.9 1566.5 330.3 1564.7L334 1559.9Q335.9 1557.5 338.8 1557L367.2 1552Q370.1 1551.4 372.4 1553.4L373.8 1554.6Q376.1 1556.5 377.8 1558.9L381.8 1564.6Q383.1 1566.5 385.4 1566.5L385.9 1566.5Q388.2 1566.5 389.5 1564.7L393.3 1559.9Q395.2 1557.5 398.1 1557L426.7 1552Q429.6 1551.4 431.9 1553.4L433.4 1554.6Q435.7 1556.5 437.4 1558.9L441.4 1564.6Q442.7 1566.5 444.9 1566.5L445.4 1566.5Q447.7 1566.5 449.1 1564.7L452.8 1559.9Q454.7 1557.5 457.6 1557L486 1552Q489 1551.4 491.3 1553.4L492.7 1554.6Q495 1556.5 496.7 1558.9L500.7 1564.6Q502.1 1566.5 504.4 1566.5L504.9 1566.5Q507.3 1566.5 508.7 1564.6L512.6 1559.8Q514.5 1557.5 517.5 1557L547.2 1551.9Q550.1 1551.4 552.5 1553.3L554 1554.6Q556.3 1556.5 558.1 1558.9L562.3 1564.5Q563.7 1566.5 566.2 1566.5L566.7 1566.5Q569.2 1566.5 570.7 1564.6L574.8 1559.8Q576.7 1557.5 579.7 1557L610.9 1551.9Q613.9 1551.4 616.2 1553.3L618 1554.6Q620.4 1556.5 622.2 1558.9L626.5 1564.5Q628 1566.5 630.4 1566.5L630.9 1566.5Q633.4 1566.5 634.9 1564.6L639.1 1559.6Q640.9 1557.5 643.7 1557L645.5 1556.8Q647.1 1556.5 647.1 1554.8L647.1 1554.5Q647.1 1552.8 648.8 1552.8L683.4 1552.8" stroke="#00ff00"/>
<path d="M103.4 1521L103.4 1498.4Q103.4 1495.4 105.6 1497.4L130 1519.4Q132.2 1521.4 135.2 1521.4L139.5 1521.4Q142.5 1521.4 142.5 1518.4L142.7 1384.3Q142.7 1382.1 144.9 1381.7L145.3 1381.6Q147.5 1381.1 148.3 1379.1L149.5 1375.9Q150.5 1373.1 150.5 1376.1L151 1508.4Q151 1511.4 152.3 1508.7L158.4 1495.1Q159.6 1492.3 161.8 1494.3L189.6 1519.4Q191.9 1521.4 194.9 1521.4L199.1 1521.4Q202.1 1521.4 202.1 1518.4L202.3 1384.3Q202.3 1382.1 204.5 1381.7L205 1381.6Q207.1 1381.1 207.9 1379.1L209.1 1375.9Q210.1 1373.1 210.2 1376.1L210.6 1508.4Q210.6 1511.4 211.9 1508.7L218 1495.1Q219.2 1492.3 221.4 1494.3L249.2 1519.4Q251.4 1521.4 254.4 1521.4L258.6 1521.4Q261.6 1521.4 261.6 1518.4L261.8 1384.3Q261.8 1382.1 264 1381.7L264.5 1381.6Q266.6 1381.1 267.4 1379.1L268.6 1375.9Q269.6 1373.1 269.6 1376.1L270.1 1508.4Q270.1 1511.4 271.3 1508.7L277.4 1495.1Q278.6 1492.3 280.8 1494.3L308.5 1519.4Q310.7 1521.4 313.7 1521.4L317.9 1521.4Q320.9 1521.4 320.9 1518.4L321.1 1384.3Q321.1 1382.1 323.3 1381.7L323.7 1381.6Q325.9 1381.1 326.7 1379.1L327.8 1375.9Q328.9 1373.1 328.9 1376.1L329.4 1508.4Q329.4 1511.4 330.6 1508.7L336.7 1495.1Q337.9 1492.3 340.1 1494.3L367.7 1519.4Q369.9 1521.4 372.9 1521.4L377.1 1521.4Q380.1 1521.4 380.1 1518.4L380.3 1384.3Q380.3 1382.1 382.5 1381.7L383 1381.6Q385.1 1381.1 385.9 1379.1L387.1 1375.9Q388.2 1373.1 388.2 1376.1L388.6 1508.4Q388.7 1511.4 389.9 1508.7L396 1495.1Q397.2 1492.3 399.4 1494.3L427.2 1519.4Q429.4 1521.4 432.4 1521.4L436.7 1521.4Q439.7 1521.4 439.7 1518.4L439.9 1384.3Q439.9 1382.1 442 1381.7L442.5 1381.6Q444.7 1381.1 445.5 1379.1L446.6 1375.9Q447.7 1373.1 447.7 1376.1L448.2 1508.4Q448.2 1511.4 449.4 1508.7L455.5 1495.1Q456.7 1492.3 458.9 1494.3L486.5 1519.4Q488.8 1521.4 491.8 1521.4L496 1521.4Q499 1521.4 499 1518.4L499.2 1384.4Q499.2 1382.1 501.4 1381.7L501.9 1381.6Q504.1 1381.1 505 1379L506.2 1375.9Q507.3 1373.1 507.3 1376.1L507.8 1508.4Q507.8 1511.4 509 1508.7L515.3 1495Q516.6 1492.3 518.9 1494.3L547.7 1519.4Q549.9 1521.4 552.9 1521.4L557.5 1521.4Q560.5 1521.4 560.5 1518.4L560.7 1384.5Q560.7 1382.1 563.1 1381.7L563.6 1381.6Q565.9 1381.1 566.8 1378.9L568 1375.9Q569.2 1373.1 569.2 1376.1L569.7 1508.4Q569.7 1511.4 571 1508.7L577.6 1495Q578.9 1492.3 581.2 1494.2L611.4 1519.5Q613.7 1521.4 616.7 1521.4L621.7 1521.4Q624.7 1521.4 624.7 1518.4L624.9 1384.5Q624.9 1382.1 627.3 1381.7L627.8 1381.6Q630.1 1381.1 631 1378.9L632.2 1375.9Q633.4 1373.1 633.4 1376.1L633.9 1508.4Q633.9 1511.4 635.2 1508.7L642.1 1494.4Q643.1 1492.3 644.9 1493.8L645.3 1494.1Q647.1 1495.6 647.1 1498L647.1 1518Q647.1 1521 650.1 1521L683.4 1521" stroke="#0000ff"/>
<path d="M103.4 1527.1L103.4 1547.7Q103.4 1550.7 106.1 1549.4L107.4 1548.7Q110.1 1547.4 112.6 1545.8L117.1 1543Q119.3 1541.5 121.5 1540.1L122 1539.8Q124.2 1538.4 125.5 1536.1L126 1535.2Q127.4 1532.6 129.3 1530.3L130.5 1528.7Q132.4 1526.4 134 1529L136.9 1533.8Q138.5 1536.4 139.7 1539.2L140.3 1540.6Q141.5 1543.4 141.5 1546.4L141.7 1681.7Q141.7 1684.7 143.3 1687.2L148.9 1696.3Q150.5 1698.8 150.5 1695.8L151.1 1560Q151.1 1558.5 152.7 1558.5L153 1558.5Q154.6 1558.5 155.5 1557.3L157.7 1554.7Q159.6 1552.4 162.3 1551.1L167 1548.7Q169.7 1547.4 172.3 1545.8L176.7 1543Q178.9 1541.5 181.1 1540.1L181.6 1539.8Q183.8 1538.4 185.1 1536.1L185.6 1535.2Q187 1532.6 188.9 1530.3L190.2 1528.7Q192.1 1526.4 193.6 1529L196.5 1533.8Q198.1 1536.4 199.3 1539.2L199.9 1540.6Q201.1 1543.4 201.1 1546.4L201.3 1681.7Q201.3 1684.7 202.9 1687.2L208.6 1696.3Q210.1 1698.8 210.2 1695.8L210.7 1560Q210.7 1558.5 212.3 1558.5L212.6 1558.5Q214.2 1558.5 215.1 1557.3L217.3 1554.7Q219.2 1552.4 221.9 1551.1L226.6 1548.7Q229.3 1547.4 231.8 1545.8L236.2 1543Q238.4 1541.5 240.7 1540.1L241.1 1539.8Q243.4 1538.4 244.6 1536.1L245.1 1535.2Q246.6 1532.6 248.5 1530.3L249.7 1528.7Q251.6 1526.4 253.1 1529L256.1 1533.8Q257.6 1536.4 258.8 1539.2L259.4 1540.6Q260.6 1543.4 260.6 1546.4L260.8 1681.7Q260.8 1684.7 262.4 1687.3L268 1696.3Q269.6 1698.8 269.6 1695.8L270.2 1560Q270.2 1558.5 271.7 1558.5L272.1 1558.5Q273.6 1558.5 274.6 1557.3L276.7 1554.7Q278.6 1552.4 281.3 1551.1L286 1548.7Q288.7 1547.4 291.2 1545.8L295.6 1543Q297.8 1541.5 300 1540.1L300.5 1539.8Q302.7 1538.4 304 1536.1L304.5 1535.2Q305.9 1532.6 307.8 1530.3L309 1528.7Q310.9 1526.4 312.4 1529L315.4 1533.8Q316.9 1536.4 318.1 1539.2L318.7 1540.6Q319.9 1543.4 319.9 1546.4L320.1 1681.7Q320.1 1684.7 321.7 1687.3L327.3 1696.3Q328.9 1698.8 328.9 1695.8L329.5 1560Q329.5 1558.5 331 1558.5L331.4 1558.5Q332.9 1558.5 333.9 1557.3L336 1554.7Q337.9 1552.4 340.6 1551.1L345.3 1548.7Q348 1547.4 350.5 1545.8L354.9 1543Q357 1541.5 359.3 1540.1L359.7 1539.8Q361.9 1538.4 363.2 1536.1L363.7 1535.2Q365.1 1532.6 367 1530.3L368.3 1528.7Q370.1 1526.4 371.7 1529L374.6 1533.8Q376.1 1536.4 377.3 1539.2L377.9 1540.6Q379.1 1543.4 379.1 1546.4L379.3 1681.7Q379.3 1684.7 380.9 1687.2L386.6 1696.3Q388.2 1698.8 388.2 1695.8L388.7 1560Q388.8 1558.5 390.3 1558.5L390.6 1558.5Q392.2 1558.5 393.1 1557.3L395.3 1554.7Q397.2 1552.4 399.9 1551.1L404.6 1548.7Q407.3 1547.4 409.9 1545.8L414.3 1543Q416.5 1541.5 418.7 1540.1L419.2 1539.8Q421.4 1538.4 422.7 1536.1L423.2 1535.2Q424.6 1532.6 426.5 1530.3L427.8 1528.7Q429.6 1526.4 431.2 1529L434.1 1533.8Q435.7 1536.4 436.9 1539.2L437.5 1540.6Q438.7 1543.4 438.7 1546.4L438.9 1681.7Q438.9 1684.7 440.5 1687.3L446.1 1696.3Q447.7 1698.8 447.7 1695.8L448.3 1560Q448.3 1558.5 449.8 1558.5L450.1 1558.5Q451.7 1558.5 452.6 1557.3L454.8 1554.7Q456.7 1552.4 459.4 1551.1L464.1 1548.7Q466.8 1547.4 469.3 1545.8L473.7 1543Q475.9 1541.5 478.1 1540.1L478.6 1539.8Q480.8 1538.4 482 1536.1L482.5 1535.2Q484 1532.6 485.8 1530.3L487.1 1528.7Q489 1526.4 490.5 1529L493.4 1533.8Q495 1536.4 496.1 1539.2L496.8 1540.6Q498 1543.4 498 1546.4L498.2 1681.7Q498.2 1684.7 499.8 1687.2L505.6 1696.3Q507.3 1698.8 507.3 1695.8L507.9 1560.1Q507.9 1558.5 509.5 1558.5L509.8 1558.5Q511.4 1558.5 512.4 1557.3L514.7 1554.7Q516.6 1552.4 519.3 1551.1L524.4 1548.7Q527.1 1547.4 529.6 1545.8L534.2 1543Q536.5 1541.5 538.8 1540.1L539.3 1539.8Q541.6 1538.4 542.9 1536.1L543.4 1535.2Q544.9 1532.6 546.9 1530.3L548.2 1528.7Q550.1 1526.4 551.7 1528.9L554.8 1533.9Q556.3 1536.4 557.6 1539.2L558.2 1540.7Q559.5 1543.4 559.5 1546.4L559.7 1681.7Q559.7 1684.7 561.3 1687.2L567.5 1696.3Q569.2 1698.8 569.2 1695.8L569.8 1560.2Q569.8 1558.5 571.5 1558.5L571.8 1558.5Q573.5 1558.5 574.6 1557.3L576.9 1554.7Q578.9 1552.4 581.6 1551.2L587.1 1548.6Q589.8 1547.4 592.4 1545.9L597.3 1543Q599.7 1541.5 602.1 1540.1L602.6 1539.8Q605 1538.4 606.4 1536.1L606.9 1535.2Q608.5 1532.6 610.4 1530.3L611.9 1528.7Q613.9 1526.4 615.5 1528.9L618.7 1533.9Q620.4 1536.4 621.6 1539.1L622.4 1540.7Q623.6 1543.4 623.6 1546.4L623.8 1681.7Q623.8 1684.7 625.5 1687.2L631.7 1696.3Q633.4 1698.8 633.4 1695.8L634 1560.2Q634 1558.5 635.7 1558.5L636 1558.5Q637.7 1558.5 638.8 1557.3L641.8 1553.9Q643.1 1552.4 644.9 1551.6L645.3 1551.4Q647.1 1550.6 647.1 1548.6L647.1 1530.1Q647.1 1527.1 650.1 1527.1L683.4 1527.1" stroke="#00ffff"/>
<path d="M103.4 1472.6L103.4 1474Q103.4 1475.2 104.5 1474.7L104.8 1474.5Q105.9 1474 107 1473.5L108.2 1473.1Q110.1 1472.3 112.1 1471.8L117.3 1470.6Q120.2 1469.9 123.1 1470.3L126.1 1470.6Q128 1470.9 130 1471.1L130.4 1471.2Q132.3 1471.5 133.9 1470.2L134.8 1469.4Q136.9 1467.8 137.8 1465.3L139.3 1461Q140.4 1458.2 141.9 1455.6L143.8 1452.2Q144.9 1450.3 146.5 1448.9L147.1 1448.5Q148.5 1447.2 149.8 1448.6L150.1 1448.9Q151.4 1450.3 152.1 1452.1L154.6 1459.4Q155.6 1462.2 156.8 1464.9L160.8 1474.1Q161.6 1475.9 163.4 1475L163.8 1474.8Q165.5 1474 167.3 1473.3L167.8 1473.1Q169.7 1472.3 171.7 1471.8L176.9 1470.6Q179.8 1469.9 182.8 1470.3L185.7 1470.6Q187.6 1470.9 189.6 1471.1L190 1471.2Q192 1471.5 193.5 1470.2L194.4 1469.4Q196.5 1467.8 197.4 1465.3L199 1461Q200 1458.2 201.5 1455.6L203.5 1452.2Q204.5 1450.3 206.2 1448.9L206.7 1448.5Q208.1 1447.2 209.4 1448.6L209.7 1448.9Q211 1450.3 211.7 1452.1L214.2 1459.4Q215.2 1462.2 216.4 1464.9L220.4 1474.1Q221.2 1475.9 222.9 1475L223.3 1474.8Q225.1 1474 226.9 1473.3L227.4 1473.1Q229.3 1472.3 231.3 1471.8L236.4 1470.6Q239.3 1469.9 242.3 1470.3L245.2 1470.6Q247.2 1470.9 249.1 1471.1L249.5 1471.2Q251.5 1471.5 253 1470.2L254 1469.4Q256 1467.8 256.9 1465.3L258.5 1461Q259.5 1458.2 261 1455.6L263 1452.2Q264 1450.3 265.6 1448.9L266.2 1448.5Q267.6 1447.2 268.9 1448.6L269.2 1448.9Q270.5 1450.3 271.1 1452.1L273.6 1459.4Q274.6 1462.2 275.8 1464.9L279.8 1474.1Q280.6 1475.9 282.4 1475L282.8 1474.8Q284.5 1474 286.3 1473.3L286.8 1473.1Q288.7 1472.3 290.7 1471.8L295.8 1470.6Q298.7 1469.9 301.7 1470.3L304.6 1470.6Q306.5 1470.9 308.4 1471.1L308.9 1471.2Q310.8 1471.5 312.3 1470.2L313.3 1469.4Q315.3 1467.8 316.2 1465.3L317.8 1461Q318.8 1458.2 320.3 1455.6L322.2 1452.2Q323.3 1450.3 324.9 1448.9L325.4 1448.5Q326.9 1447.2 328.2 1448.6L328.5 1448.9Q329.8 1450.3 330.4 1452.1L332.9 1459.4Q333.9 1462.2 335.1 1464.9L339.1 1474.1Q339.9 1475.9 341.6 1475L342 1474.8Q343.8 1474 345.6 1473.3L346.1 1473.1Q348 1472.3 349.9 1471.8L355 1470.6Q357.9 1469.9 360.9 1470.3L363.8 1470.6Q365.7 1470.9 367.7 1471.1L368.1 1471.2Q370 1471.5 371.5 1470.2L372.5 1469.4Q374.5 1467.8 375.4 1465.3L377 1461Q378 1458.2 379.5 1455.6L381.5 1452.2Q382.5 1450.3 384.2 1448.9L384.7 1448.5Q386.1 1447.2 387.5 1448.6L387.7 1448.9Q389.1 1450.3 389.7 1452.1L392.2 1459.4Q393.2 1462.2 394.4 1464.9L398.4 1474.1Q399.2 1475.9 401 1475L401.4 1474.8Q403.1 1474 404.9 1473.3L405.4 1473.1Q407.3 1472.3 409.3 1471.8L414.5 1470.6Q417.4 1469.9 420.4 1470.3L423.3 1470.6Q425.2 1470.9 427.2 1471.1L427.6 1471.2Q429.5 1471.5 431.1 1470.2L432 1469.4Q434.1 1467.8 435 1465.3L436.5 1461Q437.6 1458.2 439.1 1455.6L441 1452.2Q442.1 1450.3 443.7 1448.9L444.2 1448.5Q445.7 1447.2 447 1448.6L447.3 1448.9Q448.6 1450.3 449.2 1452.1L451.7 1459.4Q452.7 1462.2 453.9 1464.9L457.9 1474.1Q458.7 1475.9 460.4 1475L460.8 1474.8Q462.6 1474 464.4 1473.3L464.9 1473.1Q466.8 1472.3 468.8 1471.8L473.9 1470.6Q476.8 1469.9 479.7 1470.3L482.6 1470.6Q484.6 1470.9 486.5 1471.1L486.9 1471.2Q488.9 1471.5 490.4 1470.2L491.3 1469.4Q493.4 1467.8 494.3 1465.3L495.8 1461Q496.9 1458.2 498.4 1455.6L500.4 1452.2Q501.5 1450.3 503.1 1448.9L503.7 1448.4Q505.2 1447.2 506.5 1448.6L506.8 1448.9Q508.2 1450.3 508.9 1452.1L511.4 1459.4Q512.5 1462.2 513.7 1464.9L517.8 1474.1Q518.7 1475.9 520.5 1475L520.9 1474.8Q522.7 1474 524.6 1473.3L525.1 1473.1Q527.1 1472.3 529.1 1471.8L534.5 1470.6Q537.5 1469.9 540.4 1470.2L543.5 1470.6Q545.6 1470.9 547.6 1471.1L548 1471.2Q550 1471.5 551.6 1470.2L552.6 1469.4Q554.7 1467.8 555.6 1465.3L557.3 1461Q558.3 1458.2 559.9 1455.6L561.9 1452.2Q563.1 1450.3 564.9 1448.9L565.4 1448.4Q567 1447.2 568.4 1448.6L568.7 1448.9Q570.1 1450.3 570.8 1452.2L573.5 1459.4Q574.6 1462.2 575.9 1464.9L580.2 1474Q581.1 1475.9 583 1475L583.4 1474.8Q585.3 1474 587.2 1473.3L587.8 1473.1Q589.8 1472.3 592 1471.8L597.7 1470.5Q600.7 1469.9 603.6 1470.2L607 1470.6Q609.1 1470.9 611.2 1471.1L611.7 1471.2Q613.8 1471.5 615.5 1470.2L616.4 1469.4Q618.6 1467.8 619.7 1465.2L621.3 1461Q622.4 1458.2 624 1455.6L626.1 1452.2Q627.3 1450.3 629.1 1448.9L629.6 1448.4Q631.2 1447.2 632.6 1448.6L632.9 1448.9Q634.3 1450.3 635 1452.2L637.7 1459.4Q638.8 1462.2 640.1 1464.9L644.9 1475.1Q645.3 1475.9 646.1 1475.5L646.3 1475.4Q647.1 1475.1 647.1 1474.2L647.1 1473.7Q647.1 1472.6 648.2 1472.6L683.4 1472.6" stroke="#000000"/>
</g>
<text x="96.1" y="1363.6" font-family="'Liberation Sans', Arial, sans-serif" font-size="31" fill="#262626" text-anchor="end">400</text>
<text x="96.1" y="1441.3" font-family="'Liberation Sans', Arial, sans-serif" font-size="31" fill="#262626" text-anchor="end">200</text>
<text x="96.1" y="1518.9" font-family="'Liberation Sans', Arial, sans-serif" font-size="31" fill="#262626" text-anchor="end">0</text>
<text x="96.1" y="1596.5" font-family="'Liberation Sans', Arial, sans-serif" font-size="31" fill="#262626" text-anchor="end">-200</text>
<text x="96.1" y="1674.2" font-family="'Liberation Sans', Arial, sans-serif" font-size="31" fill="#262626" text-anchor="end">-400</text>
<text x="103.4" y="1739.2" font-family="'Liberation Sans', Arial, sans-serif" font-size="31" fill="#262626" text-anchor="middle">0</text>
<text x="219.4" y="1739.2" font-family="'Liberation Sans', Arial, sans-serif" font-size="31" fill="#262626" text-anchor="middle">2</text>
<text x="335.4" y="1739.2" font-family="'Liberation Sans', Arial, sans-serif" font-size="31" fill="#262626" text-anchor="middle">4</text>
<text x="451.4" y="1739.2" font-family="'Liberation Sans', Arial, sans-serif" font-size="31" fill="#262626" text-anchor="middle">6</text>
<text x="567.4" y="1739.2" font-family="'Liberation Sans', Arial, sans-serif" font-size="31" fill="#262626" text-anchor="middle">8</text>
<text x="683.4" y="1739.2" font-family="'Liberation Sans', Arial, sans-serif" font-size="31" fill="#262626" text-anchor="middle">10</text>
<text x="0" y="0" transform="translate(24.4,1526) rotate(-90)" font-family="'Liberation Sans', Arial, sans-serif" font-size="30" fill="#262626" text-anchor="middle" textLength="200" lengthAdjust="spacingAndGlyphs">Joint Angles(°)</text>
<text x="217.6" y="1775" font-family="'Liberation Sans', Arial, sans-serif" font-size="39.9" fill="#000" text-anchor="start" textLength="85.5" lengthAdjust="spacingAndGlyphs">(c-1)</text>
<text x="342" y="1775" font-family="'Liberation Sans', Arial, sans-serif" font-size="30" fill="#262626" text-anchor="start" textLength="102.8" lengthAdjust="spacingAndGlyphs">Time(s)</text>
</g>
<g>
<line x1="982.6" y1="1351" x2="982.6" y2="1701" stroke="#dcdcdc" stroke-width="2"/>
<line x1="1098.8" y1="1351" x2="1098.8" y2="1701" stroke="#dcdcdc" stroke-width="2"/>
<line x1="1215" y1="1351" x2="1215" y2="1701" stroke="#dcdcdc" stroke-width="2"/>
<line x1="1331.2" y1="1351" x2="1331.2" y2="1701" stroke="#dcdcdc" stroke-width="2"/>
<line x1="866.4" y1="1401" x2="1447.4" y2="1401" stroke="#dcdcdc" stroke-width="2"/>
<line x1="866.4" y1="1501" x2="1447.4" y2="1501" stroke="#dcdcdc" stroke-width="2"/>
<line x1="866.4" y1="1601" x2="1447.4" y2="1601" stroke="#dcdcdc" stroke-width="2"/>
<path d="M982.6 1351V1359M982.6 1701V1693M1098.8 1351V1359M1098.8 1701V1693M1215 1351V1359M1215 1701V1693M1331.2 1351V1359M1331.2 1701V1693M866.4 1401H874.4M1447.4 1401H1439.4M866.4 1501H874.4M1447.4 1501H1439.4M866.4 1601H874.4M1447.4 1601H1439.4" stroke="#262626" stroke-width="3.6" fill="none"/>
<rect x="866.4" y="1351" width="581" height="350" fill="none" stroke="#262626" stroke-width="3.6"/>
<clipPath id="clip_c2"><rect x="864.8" y="1349.4" width="584.2" height="353.2"/></clipPath>
<g clip-path="url(#clip_c2)" fill="none" stroke-width="3.2" stroke-linejoin="round">
<path d="M866.4 1656 L1447.4 1656" stroke="#ff0000"/>
<path d="M866.4 1620L866.4 1627.5Q866.4 1630.5 869.2 1629.4L895.9 1619Q897.8 1618.2 899.5 1619.5L899.8 1619.7Q901.5 1621 902.5 1622.8L903.3 1624.4Q904.7 1627 905.8 1629.8L908.4 1636.2Q909.5 1639 911.1 1641.5L912.3 1643.4Q913.8 1645.6 915.4 1643.5L915.8 1643.1Q917.5 1641 918.9 1638.8L920.1 1637.1Q921.5 1635 923.1 1633.1L923.5 1632.6Q925.2 1630.7 927.5 1629.8L955.1 1619Q957 1618.2 958.7 1619.5L959 1619.7Q960.7 1621 961.7 1622.8L962.5 1624.4Q963.9 1627 965 1629.8L967.6 1636.2Q968.7 1639 970.3 1641.5L971.5 1643.4Q973 1645.6 974.6 1643.5L975 1643.1Q976.7 1641 978.1 1638.8L979.3 1637.1Q980.7 1635 982.3 1633.1L982.7 1632.6Q984.4 1630.7 986.7 1629.8L1014.2 1619Q1016.2 1618.2 1017.8 1619.5L1018.2 1619.7Q1019.9 1621 1020.8 1622.8L1021.6 1624.4Q1023.1 1627 1024.2 1629.8L1026.7 1636.2Q1027.8 1639 1029.5 1641.5L1030.7 1643.4Q1032.1 1645.6 1033.8 1643.5L1034.1 1643.1Q1035.8 1641 1037.2 1638.8L1038.3 1637.1Q1039.8 1635 1041.4 1633.1L1041.8 1632.6Q1043.4 1630.7 1045.8 1629.8L1073.1 1619Q1075 1618.2 1076.7 1619.5L1077.1 1619.7Q1078.7 1621 1079.7 1622.8L1080.5 1624.3Q1081.9 1627 1083 1629.8L1085.5 1636.2Q1086.6 1639 1088.3 1641.5L1089.5 1643.4Q1090.9 1645.6 1092.6 1643.5L1093 1643.1Q1094.6 1641 1096.1 1638.8L1097.2 1637.1Q1098.6 1635 1100.3 1633.1L1100.6 1632.6Q1102.3 1630.7 1104.7 1629.8L1132.1 1619Q1134.1 1618.2 1135.7 1619.5L1136.1 1619.7Q1137.8 1621 1138.7 1622.8L1139.5 1624.4Q1140.9 1627 1142.1 1629.8L1144.6 1636.2Q1145.7 1639 1147.4 1641.5L1148.6 1643.4Q1150 1645.6 1151.7 1643.5L1152 1643.1Q1153.7 1641 1155.2 1638.8L1156.3 1637.1Q1157.7 1635 1159.4 1633.1L1159.7 1632.6Q1161.4 1630.7 1163.8 1629.8L1191.3 1619Q1193.2 1618.2 1194.9 1619.5L1195.2 1619.7Q1196.9 1621 1197.9 1622.8L1198.7 1624.4Q1200.1 1627 1201.2 1629.8L1203.8 1636.2Q1204.9 1639 1206.5 1641.5L1207.7 1643.4Q1209.2 1645.6 1210.8 1643.5L1211.2 1643.1Q1212.9 1641 1214.4 1638.8L1215.5 1637.1Q1216.9 1635 1218.6 1633.1L1219 1632.6Q1220.6 1630.7 1223 1629.8L1250.7 1619Q1252.7 1618.2 1254.3 1619.5L1254.7 1619.7Q1256.4 1621 1257.4 1622.8L1258.2 1624.4Q1259.6 1627 1260.7 1629.8L1263.3 1636.2Q1264.4 1639 1266.1 1641.5L1267.3 1643.3Q1268.8 1645.6 1270.6 1643.5L1271 1643.1Q1272.7 1641 1274.3 1638.8L1275.4 1637.1Q1276.9 1635 1278.7 1633.1L1279.1 1632.6Q1280.8 1630.7 1283.3 1629.8L1312.4 1619Q1314.4 1618.2 1316.2 1619.5L1316.5 1619.7Q1318.3 1621 1319.4 1622.9L1320.2 1624.4Q1321.7 1627 1322.8 1629.8L1325.5 1636.2Q1326.7 1639 1328.4 1641.5L1329.8 1643.3Q1331.4 1645.6 1333.2 1643.5L1333.6 1643.1Q1335.5 1641 1337.1 1638.8L1338.3 1637.1Q1339.9 1635 1341.7 1633.1L1342.1 1632.6Q1344 1630.7 1346.5 1629.8L1377.2 1618.9Q1379.3 1618.2 1381.1 1619.5L1381.5 1619.7Q1383.4 1621 1384.5 1622.9L1385.4 1624.4Q1386.9 1627 1388.1 1629.7L1391 1636.3Q1392.2 1639 1394 1641.4L1395.3 1643.4Q1397 1645.6 1398.8 1643.5L1399.2 1643.1Q1401 1641 1402.7 1638.8L1403.9 1637.1Q1405.5 1635 1407.3 1633.1L1409 1631.3Q1409.6 1630.7 1410.4 1630.4L1410.6 1630.3Q1411.4 1630.1 1411.4 1629.2L1411.4 1623Q1411.4 1620 1414.4 1620L1447.4 1620" stroke="#00ff00"/>
<path d="M866.4 1520.7L866.4 1459.1Q866.4 1456.3 868.2 1458.4L868.6 1458.8Q870.5 1460.9 872 1463.2L878 1472.1Q879.6 1474.6 880.9 1477.3L887.5 1492.4Q888.7 1495.1 889.7 1497.9L897.2 1518.5Q897.8 1520.2 898.9 1518.8L899.5 1517.9Q900.2 1517 901.2 1516.4L901.4 1516.2Q902.4 1515.6 903.5 1515.3L905.1 1514.9Q906.9 1514.5 908.5 1513.5L908.8 1513.2Q910.4 1512.2 910.7 1510.3L912.1 1502.6Q912.6 1499.6 912.9 1496.6L915.8 1470.7Q916.1 1467.7 916.6 1464.7L918.2 1454.4Q918.5 1453 919.4 1451.9L919.6 1451.7Q920.6 1450.6 921.5 1451.7L927.7 1458.7Q929.7 1460.9 931.3 1463.4L937.2 1472.1Q938.8 1474.6 940.1 1477.3L946.7 1492.4Q947.9 1495.1 948.9 1497.9L956.4 1518.5Q957 1520.2 958.1 1518.8L958.7 1517.9Q959.4 1517 960.4 1516.4L960.6 1516.2Q961.6 1515.6 962.7 1515.3L964.3 1514.9Q966.1 1514.5 967.7 1513.5L968 1513.2Q969.6 1512.2 969.9 1510.3L971.3 1502.6Q971.8 1499.6 972.1 1496.6L975 1470.7Q975.3 1467.7 975.8 1464.7L977.4 1454.4Q977.7 1453 978.6 1451.9L978.8 1451.7Q979.8 1450.6 980.7 1451.7L986.9 1458.6Q988.8 1460.9 990.5 1463.4L996.3 1472.1Q998 1474.6 999.2 1477.3L1005.9 1492.4Q1007.1 1495.1 1008.1 1497.9L1015.6 1518.5Q1016.2 1520.2 1017.2 1518.8L1017.9 1517.9Q1018.6 1517 1019.6 1516.4L1019.8 1516.2Q1020.8 1515.6 1021.9 1515.3L1023.4 1514.9Q1025.2 1514.5 1026.8 1513.5L1027.2 1513.2Q1028.7 1512.2 1029.1 1510.3L1030.4 1502.6Q1030.9 1499.6 1031.3 1496.6L1034.1 1470.7Q1034.4 1467.7 1034.9 1464.7L1036.5 1454.4Q1036.8 1453 1037.7 1451.9L1037.9 1451.7Q1038.9 1450.6 1039.8 1451.7L1045.9 1458.6Q1047.9 1460.9 1049.5 1463.4L1055.3 1472.1Q1057 1474.6 1058.2 1477.3L1064.8 1492.4Q1066 1495.1 1067 1497.9L1074.4 1518.5Q1075 1520.2 1076.1 1518.8L1076.7 1517.9Q1077.4 1517 1078.4 1516.4L1078.6 1516.2Q1079.6 1515.6 1080.7 1515.3L1082.3 1514.9Q1084.1 1514.5 1085.6 1513.5L1086 1513.2Q1087.5 1512.2 1087.9 1510.4L1089.2 1502.6Q1089.7 1499.6 1090.1 1496.6L1092.9 1470.7Q1093.2 1467.7 1093.7 1464.7L1095.4 1454.4Q1095.6 1453 1096.5 1451.9L1096.8 1451.7Q1097.7 1450.6 1098.6 1451.7L1104.8 1458.6Q1106.8 1460.9 1108.4 1463.4L1114.3 1472.1Q1115.9 1474.6 1117.1 1477.3L1123.8 1492.4Q1125 1495.1 1126 1497.9L1133.5 1518.5Q1134.1 1520.2 1135.1 1518.8L1135.8 1517.9Q1136.5 1517 1137.4 1516.4L1137.7 1516.2Q1138.7 1515.6 1139.8 1515.3L1141.3 1514.9Q1143.1 1514.5 1144.7 1513.5L1145.1 1513.2Q1146.6 1512.2 1146.9 1510.3L1148.3 1502.6Q1148.8 1499.6 1149.1 1496.6L1152 1470.7Q1152.3 1467.7 1152.8 1464.7L1154.5 1454.4Q1154.7 1453 1155.6 1451.9L1155.9 1451.7Q1156.8 1450.6 1157.7 1451.7L1163.9 1458.6Q1165.9 1460.9 1167.5 1463.4L1173.4 1472.1Q1175 1474.6 1176.3 1477.3L1182.9 1492.4Q1184.1 1495.1 1185.1 1497.9L1192.6 1518.5Q1193.2 1520.2 1194.3 1518.8L1194.9 1517.9Q1195.6 1517 1196.6 1516.4L1196.8 1516.2Q1197.8 1515.6 1198.9 1515.3L1200.5 1514.9Q1202.3 1514.5 1203.8 1513.5L1204.2 1513.2Q1205.8 1512.2 1206.1 1510.3L1207.5 1502.6Q1208 1499.6 1208.3 1496.6L1211.2 1470.7Q1211.5 1467.7 1212 1464.7L1213.7 1454.4Q1213.9 1453 1214.8 1451.9L1215.1 1451.7Q1216 1450.6 1217 1451.7L1223.2 1458.7Q1225.1 1460.9 1226.8 1463.4L1232.7 1472.1Q1234.4 1474.6 1235.6 1477.3L1242.3 1492.4Q1243.5 1495.1 1244.5 1497.9L1252 1518.5Q1252.7 1520.2 1253.7 1518.8L1254.4 1517.9Q1255.1 1517 1256.1 1516.4L1256.3 1516.2Q1257.3 1515.6 1258.4 1515.3L1260 1514.9Q1261.8 1514.5 1263.4 1513.5L1263.7 1513.2Q1265.3 1512.2 1265.6 1510.3L1267 1502.6Q1267.6 1499.6 1267.9 1496.6L1270.9 1470.7Q1271.3 1467.7 1271.8 1464.7L1273.5 1454.4Q1273.8 1453 1274.8 1451.9L1275 1451.7Q1276 1450.6 1277 1451.7L1283.5 1458.7Q1285.6 1460.9 1287.3 1463.4L1293.5 1472.1Q1295.3 1474.6 1296.5 1477.3L1303.6 1492.4Q1304.8 1495.1 1305.9 1497.9L1313.7 1518.5Q1314.4 1520.2 1315.5 1518.8L1316.2 1518Q1316.9 1517 1318 1516.4L1318.2 1516.2Q1319.2 1515.6 1320.4 1515.3L1322.1 1514.9Q1324 1514.5 1325.6 1513.5L1326 1513.2Q1327.7 1512.2 1328 1510.3L1329.5 1502.5Q1330 1499.6 1330.4 1496.6L1333.5 1470.7Q1333.9 1467.7 1334.4 1464.7L1336.3 1454.5Q1336.6 1453 1337.6 1451.9L1337.8 1451.7Q1338.9 1450.6 1339.9 1451.7L1346.9 1458.8Q1348.9 1460.9 1350.7 1463.3L1357.3 1472.2Q1359.1 1474.6 1360.4 1477.3L1367.9 1492.4Q1369.2 1495.1 1370.3 1497.9L1378.6 1518.5Q1379.3 1520.2 1380.5 1518.8L1381.1 1518Q1381.9 1517 1383 1516.4L1383.3 1516.2Q1384.3 1515.6 1385.6 1515.3L1387.3 1514.9Q1389.3 1514.5 1391.1 1513.5L1391.5 1513.2Q1393.2 1512.2 1393.6 1510.2L1395.1 1502.5Q1395.6 1499.6 1396 1496.6L1399.1 1470.7Q1399.5 1467.7 1400 1464.7L1401.9 1454.5Q1402.2 1453 1403.2 1451.9L1403.4 1451.7Q1404.5 1450.6 1405.5 1451.7L1409.3 1455.5Q1411.4 1457.7 1411.4 1460.7L1411.4 1517.7Q1411.4 1520.7 1414.4 1520.7L1447.4 1520.7" stroke="#0000ff"/>
<path d="M866.4 1559.8L866.4 1600Q866.4 1602.1 868.3 1601.1L868.7 1600.9Q870.6 1600 872.5 1599.1L874.5 1598.2Q877.2 1597 879.9 1595.5L881.5 1594.6Q884.1 1593.1 885.9 1590.7L887.5 1588.4Q889.2 1586 890.8 1583.5L891.7 1581.9Q893.3 1579.4 894 1576.5L895 1571.9Q895.7 1569 896.3 1566.1L897.2 1561.8Q897.8 1558.9 898.2 1561.9L902.1 1593Q902.5 1596 903 1599L907 1623Q907.5 1626 908.4 1628.9L912.9 1642.7Q913.8 1645.6 914.9 1642.8L916.4 1638.8Q917.5 1636 918.3 1633.1L919.8 1628Q920.6 1625.1 921.2 1622.2L924.7 1604.6Q925.2 1602.3 927.2 1601.3L927.7 1601Q929.8 1600 931.9 1599.1L933.7 1598.2Q936.4 1597 939.1 1595.5L940.7 1594.6Q943.3 1593.1 945.1 1590.7L946.7 1588.4Q948.4 1586 950 1583.5L950.9 1581.9Q952.5 1579.4 953.2 1576.5L954.2 1571.9Q954.9 1569 955.5 1566.1L956.4 1561.8Q957 1558.9 957.4 1561.9L961.3 1593Q961.7 1596 962.2 1599L966.2 1623Q966.7 1626 967.6 1628.9L972.1 1642.7Q973 1645.6 974.1 1642.8L975.6 1638.8Q976.7 1636 977.5 1633.1L978.9 1628Q979.8 1625.1 980.4 1622.2L983.9 1604.6Q984.4 1602.3 986.4 1601.3L986.9 1601Q988.9 1600 991 1599.1L992.9 1598.2Q995.6 1597 998.2 1595.5L999.9 1594.6Q1002.5 1593.1 1004.3 1590.7L1005.8 1588.4Q1007.6 1586 1009.2 1583.4L1010.1 1582Q1011.7 1579.4 1012.4 1576.5L1013.4 1571.9Q1014.1 1569 1014.7 1566.1L1015.6 1561.8Q1016.2 1558.9 1016.5 1561.9L1020.5 1593Q1020.9 1596 1021.4 1599L1025.4 1623Q1025.8 1626 1026.8 1628.9L1031.2 1642.7Q1032.1 1645.6 1033.2 1642.8L1034.7 1638.8Q1035.8 1636 1036.6 1633.1L1038 1628Q1038.9 1625.1 1039.4 1622.2L1043 1604.6Q1043.4 1602.3 1045.5 1601.3L1045.9 1601Q1048 1600 1050.1 1599.1L1051.9 1598.2Q1054.6 1597 1057.2 1595.5L1058.9 1594.6Q1061.5 1593.1 1063.2 1590.7L1064.8 1588.4Q1066.5 1586 1068.1 1583.4L1069 1582Q1070.6 1579.4 1071.3 1576.5L1072.3 1571.9Q1073 1569 1073.6 1566.1L1074.4 1561.8Q1075 1558.9 1075.4 1561.9L1079.3 1593Q1079.7 1596 1080.2 1599L1084.2 1623Q1084.7 1626 1085.6 1628.9L1090 1642.7Q1090.9 1645.6 1092 1642.8L1093.5 1638.8Q1094.6 1636 1095.4 1633.1L1096.9 1628Q1097.7 1625.1 1098.3 1622.2L1101.8 1604.6Q1102.3 1602.3 1104.3 1601.3L1104.8 1601Q1106.9 1600 1109 1599.1L1110.8 1598.2Q1113.5 1597 1116.2 1595.5L1117.8 1594.6Q1120.4 1593.1 1122.2 1590.7L1123.8 1588.4Q1125.5 1586 1127.1 1583.4L1128 1582Q1129.6 1579.4 1130.3 1576.5L1131.3 1571.9Q1132 1569 1132.6 1566.1L1133.5 1561.8Q1134.1 1558.9 1134.4 1561.9L1138.4 1593Q1138.8 1596 1139.2 1599L1143.2 1623Q1143.7 1626 1144.6 1628.9L1149.1 1642.7Q1150 1645.6 1151.1 1642.8L1152.6 1638.8Q1153.7 1636 1154.5 1633.1L1156 1628Q1156.8 1625.1 1157.4 1622.2L1160.9 1604.6Q1161.4 1602.3 1163.4 1601.3L1163.9 1601Q1166 1600 1168.1 1599.1L1169.9 1598.2Q1172.7 1597 1175.3 1595.5L1176.9 1594.6Q1179.5 1593.1 1181.3 1590.7L1182.9 1588.4Q1184.6 1586 1186.2 1583.4L1187.1 1582Q1188.7 1579.4 1189.4 1576.5L1190.4 1571.9Q1191.1 1569 1191.7 1566.1L1192.6 1561.8Q1193.2 1558.9 1193.6 1561.9L1197.5 1593Q1197.9 1596 1198.4 1599L1202.4 1623Q1202.9 1626 1203.8 1628.9L1208.3 1642.7Q1209.2 1645.6 1210.3 1642.8L1211.8 1638.8Q1212.9 1636 1213.7 1633.1L1215.2 1628Q1216 1625.1 1216.6 1622.2L1220.2 1604.6Q1220.6 1602.3 1222.7 1601.3L1223.2 1601Q1225.2 1600 1227.4 1599.1L1229.2 1598.2Q1232 1597 1234.6 1595.5L1236.3 1594.6Q1238.9 1593.1 1240.7 1590.7L1242.3 1588.4Q1244 1586 1245.6 1583.5L1246.6 1581.9Q1248.1 1579.4 1248.8 1576.5L1249.9 1571.9Q1250.6 1569 1251.2 1566.1L1252 1561.8Q1252.7 1558.9 1253 1561.9L1257 1593Q1257.4 1596 1257.9 1599L1261.9 1623Q1262.4 1626 1263.3 1628.9L1267.9 1642.7Q1268.8 1645.6 1270 1642.8L1271.6 1638.8Q1272.7 1636 1273.6 1633.1L1275.1 1628Q1276 1625.1 1276.6 1622.2L1280.3 1604.7Q1280.8 1602.3 1283 1601.3L1283.5 1601Q1285.7 1600 1287.9 1599.1L1290 1598.2Q1292.7 1597 1295.4 1595.6L1297.3 1594.5Q1300 1593.1 1301.8 1590.7L1303.5 1588.4Q1305.4 1586 1307 1583.5L1308 1581.9Q1309.7 1579.4 1310.4 1576.5L1311.5 1571.9Q1312.2 1569 1312.8 1566.1L1313.8 1561.8Q1314.4 1558.9 1314.8 1561.9L1319 1593Q1319.3 1596 1319.9 1599L1324.1 1623Q1324.6 1626 1325.6 1628.8L1330.4 1642.8Q1331.4 1645.6 1332.5 1642.8L1334.3 1638.8Q1335.5 1636 1336.4 1633.1L1338 1628Q1338.9 1625.1 1339.5 1622.2L1343.4 1604.8Q1344 1602.3 1346.3 1601.3L1346.8 1601Q1349.1 1600 1351.4 1599.1L1353.7 1598.1Q1356.5 1597 1359.1 1595.6L1361.4 1594.5Q1364.1 1593.1 1366 1590.8L1367.9 1588.3Q1369.7 1586 1371.4 1583.5L1372.6 1581.9Q1374.3 1579.4 1375 1576.5L1376.2 1571.9Q1376.9 1569 1377.6 1566.1L1378.6 1561.8Q1379.3 1558.9 1379.7 1561.9L1384 1593Q1384.5 1596 1385 1599L1389.4 1623Q1390 1626 1391 1628.8L1396 1642.8Q1397 1645.6 1398.1 1642.8L1399.9 1638.8Q1401 1636 1402 1633.1L1403.6 1628Q1404.5 1625.1 1405.1 1622.2L1409.4 1603.2Q1409.6 1602.3 1410.4 1601.9L1410.6 1601.8Q1411.4 1601.5 1411.4 1600.6L1411.4 1562.8Q1411.4 1559.8 1414.4 1559.8L1447.4 1559.8" stroke="#00ffff"/>
<path d="M866.4 1424.4L866.4 1440.8Q866.4 1442.1 866.7 1443.4L866.8 1443.6Q867.1 1444.9 868 1444.1L872.8 1440Q875 1438.1 877.3 1436.1L881.9 1432.1Q884.1 1430.1 886.7 1428.5L891.5 1425.5Q893.3 1424.4 895.3 1423.9L896.9 1423.5Q897.8 1423.3 898.6 1422.7L898.7 1422.6Q899.5 1422 899.7 1421.1L901.8 1411.9Q902.5 1409 902.9 1406L905.1 1391Q905.5 1388 906 1385L908 1373.9Q908.5 1371 909.8 1368.3L910.1 1367.8Q911.5 1365.1 912.5 1367.9L913.4 1370.2Q914.5 1373 915 1376L917 1388Q917.5 1391 918 1394L920 1405.4Q920.6 1408.4 920.9 1411.4L923.1 1430Q923.5 1433 924.2 1435.9L925.6 1442Q926.3 1444.9 928.5 1443L932 1440Q934.2 1438.1 936.5 1436.1L941.1 1432.1Q943.3 1430.1 945.9 1428.5L950.8 1425.5Q952.5 1424.4 954.5 1423.9L956.1 1423.5Q957 1423.3 957.8 1422.7L957.9 1422.6Q958.7 1422 958.9 1421.1L961 1411.9Q961.7 1409 962.1 1406L964.3 1391Q964.7 1388 965.2 1385L967.2 1373.9Q967.7 1371 969 1368.3L969.3 1367.8Q970.7 1365.1 971.7 1367.9L972.6 1370.2Q973.7 1373 974.2 1376L976.2 1388Q976.7 1391 977.2 1394L979.2 1405.4Q979.8 1408.4 980.1 1411.4L982.3 1430Q982.7 1433 983.3 1435.9L984.8 1442Q985.5 1444.9 987.7 1443L991.1 1440Q993.4 1438.1 995.7 1436.1L1000.3 1432.1Q1002.5 1430.1 1005.1 1428.5L1009.9 1425.5Q1011.7 1424.4 1013.7 1423.9L1015.2 1423.5Q1016.2 1423.3 1016.9 1422.7L1017.1 1422.6Q1017.9 1422 1018.1 1421.1L1020.2 1411.9Q1020.9 1409 1021.3 1406L1023.4 1391Q1023.9 1388 1024.4 1385L1026.3 1373.9Q1026.8 1371 1028.2 1368.3L1028.5 1367.8Q1029.8 1365.1 1030.9 1367.9L1031.8 1370.2Q1032.8 1373 1033.3 1376L1035.3 1388Q1035.8 1391 1036.3 1394L1038.3 1405.4Q1038.9 1408.4 1039.2 1411.4L1041.4 1430Q1041.7 1433 1042.4 1435.9L1043.8 1442Q1044.5 1444.9 1046.8 1442.9L1050.2 1440.1Q1052.4 1438.1 1054.7 1436.1L1059.2 1432.1Q1061.5 1430.1 1064 1428.5L1068.8 1425.5Q1070.6 1424.4 1072.6 1423.9L1074.1 1423.5Q1075 1423.3 1075.8 1422.7L1076 1422.6Q1076.7 1422 1076.9 1421.1L1079 1411.9Q1079.7 1409 1080.1 1406L1082.3 1391Q1082.7 1388 1083.2 1385L1085.1 1373.9Q1085.7 1371 1087 1368.3L1087.3 1367.8Q1088.6 1365.1 1089.7 1367.9L1090.6 1370.2Q1091.6 1373 1092.1 1376L1094.1 1388Q1094.6 1391 1095.1 1394L1097.2 1405.4Q1097.7 1408.4 1098 1411.4L1100.2 1430Q1100.6 1433 1101.3 1435.9L1102.7 1442Q1103.4 1444.9 1105.7 1443L1109.1 1440Q1111.4 1438.1 1113.6 1436.1L1118.2 1432.1Q1120.4 1430.1 1123 1428.5L1127.8 1425.5Q1129.6 1424.4 1131.6 1423.9L1133.1 1423.5Q1134.1 1423.3 1134.8 1422.7L1135 1422.6Q1135.8 1422 1136 1421.1L1138.1 1411.9Q1138.8 1409 1139.2 1406L1141.3 1391Q1141.7 1388 1142.3 1385L1144.2 1373.9Q1144.7 1371 1146.1 1368.3L1146.4 1367.8Q1147.7 1365.1 1148.8 1367.9L1149.6 1370.2Q1150.7 1373 1151.2 1376L1153.2 1388Q1153.7 1391 1154.2 1394L1156.3 1405.4Q1156.8 1408.4 1157.1 1411.4L1159.3 1430Q1159.7 1433 1160.4 1435.9L1161.8 1442Q1162.5 1444.9 1164.8 1443L1168.2 1440Q1170.5 1438.1 1172.7 1436.1L1177.3 1432.1Q1179.5 1430.1 1182.1 1428.5L1186.9 1425.5Q1188.7 1424.4 1190.7 1423.9L1192.3 1423.5Q1193.2 1423.3 1194 1422.7L1194.1 1422.6Q1194.9 1422 1195.1 1421.1L1197.2 1411.9Q1197.9 1409 1198.3 1406L1200.5 1391Q1200.9 1388 1201.4 1385L1203.4 1373.9Q1203.9 1371 1205.2 1368.3L1205.5 1367.8Q1206.9 1365.1 1207.9 1367.9L1208.8 1370.2Q1209.9 1373 1210.4 1376L1212.4 1388Q1212.9 1391 1213.4 1394L1215.5 1405.4Q1216 1408.4 1216.4 1411.4L1218.6 1430Q1218.9 1433 1219.6 1435.9L1221 1442Q1221.7 1444.9 1224 1443L1227.5 1440Q1229.8 1438.1 1232 1436.1L1236.6 1432.1Q1238.9 1430.1 1241.5 1428.5L1246.4 1425.5Q1248.1 1424.4 1250.2 1423.9L1251.7 1423.5Q1252.7 1423.3 1253.4 1422.7L1253.6 1422.6Q1254.4 1422 1254.6 1421.1L1256.7 1411.9Q1257.4 1409 1257.8 1406L1260 1391Q1260.4 1388 1260.9 1385L1262.9 1373.9Q1263.4 1371 1264.8 1368.3L1265.1 1367.8Q1266.4 1365.1 1267.5 1367.9L1268.5 1370.2Q1269.6 1373 1270.1 1376L1272.2 1388Q1272.7 1391 1273.3 1393.9L1275.4 1405.5Q1276 1408.4 1276.4 1411.4L1278.7 1430Q1279 1433 1279.8 1435.9L1281.3 1442Q1282 1444.9 1284.3 1443L1288.1 1440Q1290.4 1438.1 1292.7 1436.2L1297.7 1432Q1300 1430.1 1302.6 1428.6L1307.8 1425.5Q1309.7 1424.4 1311.8 1423.9L1313.4 1423.5Q1314.4 1423.3 1315.2 1422.7L1315.4 1422.6Q1316.2 1422 1316.4 1421L1318.6 1411.9Q1319.3 1409 1319.8 1406L1322.1 1391Q1322.5 1388 1323.1 1385.1L1325.1 1373.9Q1325.7 1371 1327.1 1368.4L1327.4 1367.7Q1328.8 1365.1 1330 1367.9L1331 1370.2Q1332.1 1373 1332.7 1376L1334.9 1388Q1335.5 1391 1336 1393.9L1338.3 1405.5Q1338.9 1408.4 1339.3 1411.4L1341.7 1430Q1342.1 1433 1342.8 1435.9L1344.4 1442Q1345.2 1444.9 1347.6 1443.1L1351.7 1439.9Q1354 1438.1 1356.4 1436.2L1361.8 1432Q1364.1 1430.1 1366.7 1428.6L1372.3 1425.5Q1374.3 1424.4 1376.5 1423.9L1378.3 1423.5Q1379.3 1423.3 1380.1 1422.7L1380.3 1422.6Q1381.1 1422 1381.4 1421L1383.7 1411.9Q1384.5 1409 1384.9 1406L1387.3 1391Q1387.8 1388 1388.4 1385.1L1390.5 1373.9Q1391.1 1371 1392.6 1368.4L1392.9 1367.7Q1394.4 1365.1 1395.6 1367.9L1396.6 1370.2Q1397.7 1373 1398.3 1376L1400.5 1388Q1401 1391 1401.6 1393.9L1403.9 1405.5Q1404.5 1408.4 1404.9 1411.4L1407.3 1430Q1407.7 1433 1408.4 1435.9L1410.7 1444.6Q1410.8 1444.9 1411.1 1444.7L1411.1 1444.6Q1411.4 1444.4 1411.4 1444.1L1411.4 1427.4Q1411.4 1424.4 1414.4 1424.4L1447.4 1424.4" stroke="#000000"/>
</g>
<text x="859.1" y="1413.3" font-family="'Liberation Sans', Arial, sans-serif" font-size="31" fill="#262626" text-anchor="end">100</text>
<text x="859.1" y="1513.3" font-family="'Liberation Sans', Arial, sans-serif" font-size="31" fill="#262626" text-anchor="end">0</text>
<text x="859.1" y="1613.3" font-family="'Liberation Sans', Arial, sans-serif" font-size="31" fill="#262626" text-anchor="end">-100</text>
<text x="859.1" y="1713.3" font-family="'Liberation Sans', Arial, sans-serif" font-size="31" fill="#262626" text-anchor="end">-200</text>
<text x="866.4" y="1739.5" font-family="'Liberation Sans', Arial, sans-serif" font-size="31" fill="#262626" text-anchor="middle">0</text>
<text x="982.6" y="1739.5" font-family="'Liberation Sans', Arial, sans-serif" font-size="31" fill="#262626" text-anchor="middle">2</text>
<text x="1098.8" y="1739.5" font-family="'Liberation Sans', Arial, sans-serif" font-size="31" fill="#262626" text-anchor="middle">4</text>
<text x="1215" y="1739.5" font-family="'Liberation Sans', Arial, sans-serif" font-size="31" fill="#262626" text-anchor="middle">6</text>
<text x="1331.2" y="1739.5" font-family="'Liberation Sans', Arial, sans-serif" font-size="31" fill="#262626" text-anchor="middle">8</text>
<text x="1447.4" y="1739.5" font-family="'Liberation Sans', Arial, sans-serif" font-size="31" fill="#262626" text-anchor="middle">10</text>
<text x="0" y="0" transform="translate(787.4,1526) rotate(-90)" font-family="'Liberation Sans', Arial, sans-serif" font-size="30" fill="#262626" text-anchor="middle" textLength="200" lengthAdjust="spacingAndGlyphs">Joint Angles(°)</text>
<text x="982.4" y="1775" font-family="'Liberation Sans', Arial, sans-serif" font-size="39.9" fill="#000" text-anchor="start" textLength="86" lengthAdjust="spacingAndGlyphs">(c-2)</text>
<text x="1105.4" y="1775" font-family="'Liberation Sans', Arial, sans-serif" font-size="30" fill="#262626" text-anchor="start" textLength="103.8" lengthAdjust="spacingAndGlyphs">Time(s)</text>
</g>
<ellipse cx="464.1" cy="939.5" rx="113.4" ry="42.5" fill="none" stroke="#ff0000" stroke-width="3"/>
<ellipse cx="357.6" cy="1399.7" rx="67.6" ry="39.8" fill="none" stroke="#ff0000" stroke-width="3"/>
<ellipse cx="597.2" cy="1669.7" rx="74.6" ry="42.7" fill="none" stroke="#ff0000" stroke-width="3"/>
<clipPath id="ce1"><ellipse cx="334.5" cy="1262.3" rx="179" ry="75.3"/></clipPath>
<g clip-path="url(#ce1)" fill="none" stroke-width="4" stroke-linejoin="round">
<path d="M-231.3 1282.8L-231.3 1166.1Q-231.3 1161.1 -226.9 1163.6L-224.2 1165.1Q-219.8 1167.5 -219.1 1172.5L-217.6 1183.5Q-216.9 1188.5 -216 1193.4L-213.5 1206.2Q-212.6 1211.1 -210.5 1215.6L-198.8 1241Q-196.7 1245.5 -194.9 1250.2L-186.4 1272.5Q-185.2 1275.8 -182.9 1278.5L-181.8 1279.7Q-180.1 1281.7 -178.4 1279.7L-178 1279.3Q-176.4 1277.2 -176 1274.7L-171.5 1246.1Q-170.7 1241.2 -169.9 1236.3L-165.6 1208.5Q-164.8 1203.6 -163.1 1198.9L-160.3 1191.7Q-159.1 1188.5 -157.1 1185.8L-156.7 1185.2Q-154.7 1182.4 -153.9 1179.1L-151.5 1169.3Q-150.3 1164.5 -149.5 1159.5L-148.4 1153.5Q-147.9 1150.2 -146.6 1153.2L-146 1154.7Q-145 1156.9 -143.1 1158.6L-142.7 1159Q-140.8 1160.6 -138.6 1161.9L-132.8 1165.1Q-128.5 1167.5 -127.8 1172.5L-126.2 1183.5Q-125.5 1188.5 -124.6 1193.4L-122.2 1206.2Q-121.2 1211.1 -119.1 1215.6L-107.4 1241Q-105.4 1245.5 -103.6 1250.2L-95.1 1272.5Q-93.8 1275.8 -91.5 1278.5L-90.4 1279.7Q-88.7 1281.7 -87.1 1279.7L-86.7 1279.3Q-85 1277.2 -84.6 1274.7L-80.1 1246.1Q-79.3 1241.2 -78.5 1236.3L-74.2 1208.5Q-73.4 1203.6 -71.6 1198.9L-68.9 1191.7Q-67.7 1188.5 -65.6 1185.8L-65.2 1185.2Q-63.2 1182.4 -62.4 1179.1L-60 1169.3Q-58.8 1164.5 -57.9 1159.5L-56.9 1153.5Q-56.3 1150.2 -55 1153.2L-54.4 1154.6Q-53.4 1156.9 -51.5 1158.6L-51.1 1159Q-49.2 1160.6 -47 1161.8L-41.1 1165.1Q-36.7 1167.5 -36 1172.5L-34.5 1183.6Q-33.8 1188.5 -32.8 1193.4L-30.4 1206.2Q-29.4 1211.1 -27.3 1215.6L-15.5 1241Q-13.4 1245.5 -11.6 1250.2L-3 1272.5Q-1.8 1275.8 0.6 1278.5L1.7 1279.7Q3.4 1281.7 5.1 1279.7L5.4 1279.3Q7.1 1277.2 7.5 1274.6L12.1 1246.1Q12.9 1241.2 13.6 1236.3L17.9 1208.5Q18.7 1203.6 20.5 1198.9L23.2 1191.7Q24.4 1188.5 26.4 1185.8L26.9 1185.2Q28.9 1182.4 29.7 1179.1L32 1169.3Q33.2 1164.5 34.1 1159.5L35.1 1153.5Q35.7 1150.2 37 1153.2L37.6 1154.7Q38.6 1156.9 40.5 1158.6L40.9 1159Q42.8 1160.6 45 1161.9L50.7 1165.1Q55.1 1167.5 55.8 1172.5L57.4 1183.5Q58 1188.5 59 1193.4L61.4 1206.2Q62.4 1211.1 64.5 1215.6L76.2 1241Q78.2 1245.5 80 1250.2L88.6 1272.5Q89.8 1275.8 92.1 1278.5L93.2 1279.7Q94.9 1281.7 96.6 1279.7L96.9 1279.3Q98.6 1277.2 99 1274.7L103.5 1246.1Q104.3 1241.2 105.1 1236.3L109.4 1208.5Q110.2 1203.6 112 1198.9L114.7 1191.7Q115.9 1188.5 118 1185.8L118.4 1185.2Q120.4 1182.4 121.2 1179.1L123.6 1169.3Q124.8 1164.5 125.6 1159.5L126.7 1153.5Q127.2 1150.2 128.6 1153.2L129.2 1154.6Q130.2 1156.9 132.1 1158.6L132.5 1159Q134.4 1160.6 136.6 1161.8L142.4 1165.1Q146.8 1167.5 147.5 1172.5L149 1183.6Q149.7 1188.5 150.7 1193.4L153.1 1206.2Q154.1 1211.1 156.2 1215.6L167.9 1241Q170 1245.5 171.8 1250.2L180.4 1272.5Q181.6 1275.8 184 1278.5L185.1 1279.7Q186.8 1281.7 188.4 1279.7L188.8 1279.3Q190.5 1277.2 190.9 1274.6L195.4 1246.1Q196.2 1241.2 197 1236.3L201.3 1208.5Q202.1 1203.6 203.9 1198.9L206.6 1191.7Q207.8 1188.5 209.9 1185.8L210.3 1185.2Q212.3 1182.4 213.1 1179.1L215.5 1169.3Q216.7 1164.5 217.5 1159.5L218.6 1153.5Q219.1 1150.2 220.5 1153.2L221.1 1154.6Q222.1 1156.9 224 1158.6L224.4 1159Q226.3 1160.6 228.4 1161.8L234.3 1165.1Q238.6 1167.5 239.3 1172.5L240.9 1183.5Q241.6 1188.5 242.5 1193.4L245 1206.2Q245.9 1211.1 248 1215.6L259.8 1241Q261.9 1245.5 263.7 1250.2L272.2 1272.5Q273.5 1275.8 275.8 1278.5L276.9 1279.7Q278.6 1281.7 280.3 1279.7L280.6 1279.3Q282.3 1277.2 282.7 1274.7L287.2 1246.1Q288 1241.2 288.8 1236.3L293.2 1208.5Q294 1203.6 295.8 1198.9L298.5 1191.7Q299.7 1188.5 301.8 1185.8L302.2 1185.2Q304.3 1182.4 305.1 1179.1L307.4 1169.3Q308.6 1164.5 309.5 1159.6L310.6 1153.5Q311.1 1150.2 312.5 1153.2L313.1 1154.6Q314.1 1156.9 316 1158.6L316.4 1159Q318.3 1160.6 320.5 1161.8L326.4 1165.1Q330.8 1167.5 331.5 1172.5L333.1 1183.6Q333.8 1188.5 334.7 1193.4L337.2 1206.2Q338.1 1211.1 340.2 1215.6L352.1 1241Q354.2 1245.5 356 1250.2L364.6 1272.5Q365.9 1275.8 368.2 1278.5L369.3 1279.7Q371 1281.7 372.7 1279.7L373.1 1279.3Q374.8 1277.2 375.2 1274.6L379.8 1246.1Q380.6 1241.2 381.4 1236.3L386 1208.5Q386.8 1203.6 388.7 1198.9L391.6 1191.7Q392.9 1188.5 395 1185.8L395.5 1185.2Q397.6 1182.4 398.5 1179L401 1169.3Q402.2 1164.5 403.1 1159.6L404.2 1153.5Q404.9 1150.2 406.3 1153.2L406.9 1154.6Q408 1156.9 410 1158.6L410.4 1159Q412.4 1160.6 414.7 1161.8L421.1 1165.2Q425.5 1167.5 426.3 1172.5L427.9 1183.6Q428.7 1188.5 429.7 1193.4L432.3 1206.2Q433.3 1211.1 435.5 1215.6L448 1241Q450.2 1245.5 452.1 1250.2L461.1 1272.4Q462.5 1275.8 464.9 1278.5L466.1 1279.7Q467.9 1281.7 469.7 1279.7L470.1 1279.3Q471.9 1277.2 472.3 1274.6L477.1 1246.1Q477.9 1241.2 478.8 1236.3L483.5 1208.5Q484.3 1203.6 486.2 1198.9L489.2 1191.7Q490.6 1188.5 492.8 1185.8L493.2 1185.2Q495.4 1182.4 496.3 1179L498.9 1169.3Q500.1 1164.5 501.1 1159.6L502.2 1153.5Q502.8 1150.2 504.3 1153.2L504.9 1154.6Q506 1156.9 508.1 1158.6L508.5 1159Q510.6 1160.6 512.9 1161.8L519.6 1165.2Q524.1 1167.5 524.8 1172.5L526.5 1183.6Q527.3 1188.5 528.3 1193.4L530.9 1206.2Q532 1211.1 534.2 1215.6L547.1 1241.1Q549.3 1245.5 551.2 1250.1L560.5 1272.4Q561.9 1275.8 564.4 1278.5L565.6 1279.7Q567.5 1281.7 569.3 1279.7L569.7 1279.3Q571.5 1277.2 572 1274.6L576.9 1246.1Q577.8 1241.2 578.6 1236.3L583.3 1208.5Q584.2 1203.6 586.1 1198.9L589 1191.7Q590.4 1188.5 592.6 1185.8L593.1 1185.2Q595.3 1182.4 596.2 1179L598.7 1169.3Q600 1164.5 600.9 1159.6L602 1153.5Q602.7 1150.2 604.1 1153.2L604.7 1154.6Q605.9 1156.9 607.9 1158.6L609.7 1160.1Q610.4 1160.6 611.2 1161L611.4 1161.1Q612.2 1161.5 612.2 1162.4L612.2 1277.8Q612.2 1282.8 617.2 1282.8L668.9 1282.8" stroke="#0000ff"/>
<path d="M-231.3 1119.8L-231.3 1254.9Q-231.3 1259.9 -226.3 1259.9L-224.8 1259.9Q-219.8 1259.9 -219.6 1254.9L-218.7 1238.7Q-218.4 1233.7 -217.9 1228.7L-215.2 1201Q-214.8 1196 -213.9 1191.1L-211.3 1175.3Q-210.4 1170.4 -208.8 1165.7L-204.8 1154.1Q-203.2 1149.4 -200.9 1145L-196.9 1137.4Q-194.6 1132.9 -191.6 1128.9L-187.9 1123.7Q-185.8 1120.7 -183.2 1118.1L-182.6 1117.5Q-180.1 1114.8 -179.2 1111.2L-178.3 1107.7Q-177.2 1102.8 -176.3 1097.9L-175 1090.4Q-174.2 1086.1 -172.4 1082.2L-171.6 1080.4Q-170.2 1077.3 -168.1 1080L-167.7 1080.6Q-165.6 1083.3 -165 1086.6L-162.2 1100.9Q-161.3 1105.9 -160.6 1110.8L-157.7 1130.9Q-157 1135.8 -156.3 1140.8L-154.7 1153.4Q-154 1158.4 -153.6 1163.4L-151.6 1183.5Q-151.1 1188.5 -150.9 1193.5L-148.4 1254.9Q-148.2 1259.9 -143.2 1259.9L-133.5 1259.9Q-128.5 1259.9 -128.2 1254.9L-127.3 1238.7Q-127 1233.7 -126.5 1228.7L-123.9 1201Q-123.4 1196 -122.6 1191.1L-119.9 1175.3Q-119.1 1170.4 -117.4 1165.7L-113.5 1154.1Q-111.8 1149.4 -109.5 1145L-105.5 1137.4Q-103.2 1132.9 -100.3 1128.9L-96.6 1123.7Q-94.4 1120.7 -91.9 1118.1L-91.3 1117.5Q-88.7 1114.8 -87.8 1111.2L-87 1107.7Q-85.8 1102.8 -84.9 1097.9L-83.6 1090.4Q-82.9 1086.1 -81.1 1082.2L-80.3 1080.4Q-78.9 1077.3 -76.8 1080L-76.3 1080.6Q-74.2 1083.3 -73.6 1086.6L-70.8 1100.9Q-69.8 1105.9 -69.1 1110.8L-66.2 1130.9Q-65.5 1135.8 -64.8 1140.8L-63.2 1153.4Q-62.5 1158.4 -62 1163.4L-60.1 1183.5Q-59.6 1188.5 -59.4 1193.5L-56.8 1254.9Q-56.6 1259.9 -51.6 1259.9L-41.7 1259.9Q-36.7 1259.9 -36.5 1254.9L-35.5 1238.7Q-35.3 1233.7 -34.8 1228.7L-32.1 1201Q-31.6 1196 -30.8 1191.1L-28.1 1175.3Q-27.3 1170.4 -25.6 1165.7L-21.6 1154.1Q-19.9 1149.4 -17.6 1145L-13.6 1137.3Q-11.2 1132.9 -8.3 1128.9L-4.6 1123.8Q-2.4 1120.7 0.2 1118.1L0.8 1117.5Q3.4 1114.8 4.3 1111.2L5.1 1107.7Q6.3 1102.8 7.2 1097.9L8.5 1090.4Q9.3 1086.1 11.1 1082.2L11.9 1080.4Q13.3 1077.3 15.4 1080L15.9 1080.6Q17.9 1083.3 18.6 1086.6L21.3 1100.9Q22.3 1105.9 23 1110.8L25.9 1130.9Q26.6 1135.8 27.2 1140.8L28.9 1153.4Q29.5 1158.4 30 1163.4L32 1183.5Q32.4 1188.5 32.6 1193.5L35.2 1254.9Q35.4 1259.9 40.4 1259.9L50.1 1259.9Q55.1 1259.9 55.4 1254.9L56.3 1238.7Q56.6 1233.7 57 1228.7L59.7 1201Q60.2 1196 61 1191.1L63.7 1175.3Q64.5 1170.4 66.2 1165.7L70.1 1154.1Q71.8 1149.4 74.1 1145L78.1 1137.4Q80.4 1132.9 83.3 1128.9L87 1123.7Q89.2 1120.7 91.8 1118.1L92.3 1117.5Q94.9 1114.8 95.8 1111.2L96.7 1107.7Q97.8 1102.8 98.7 1097.9L100 1090.4Q100.8 1086.1 102.6 1082.2L103.4 1080.4Q104.8 1077.3 106.9 1080L107.3 1080.6Q109.4 1083.3 110.1 1086.6L112.8 1100.9Q113.8 1105.9 114.5 1110.8L117.4 1130.9Q118.1 1135.8 118.8 1140.8L120.4 1153.4Q121 1158.4 121.5 1163.4L123.5 1183.5Q124 1188.5 124.2 1193.5L126.7 1254.9Q126.9 1259.9 131.9 1259.9L141.8 1259.9Q146.8 1259.9 147.1 1254.9L148 1238.7Q148.2 1233.7 148.7 1228.7L151.4 1201Q151.9 1196 152.7 1191.1L155.4 1175.3Q156.2 1170.4 157.9 1165.7L161.9 1154.1Q163.5 1149.4 165.8 1145L169.9 1137.3Q172.2 1132.9 175.1 1128.9L178.8 1123.8Q181 1120.7 183.6 1118.1L184.2 1117.5Q186.8 1114.8 187.6 1111.2L188.5 1107.7Q189.7 1102.8 190.6 1097.9L191.9 1090.4Q192.7 1086.1 194.5 1082.2L195.3 1080.4Q196.7 1077.3 198.8 1080L199.2 1080.6Q201.3 1083.3 202 1086.6L204.7 1100.9Q205.7 1105.9 206.4 1110.8L209.3 1130.9Q210 1135.8 210.6 1140.8L212.3 1153.4Q212.9 1158.4 213.4 1163.4L215.4 1183.5Q215.9 1188.5 216.1 1193.5L218.6 1254.9Q218.8 1259.9 223.8 1259.9L233.6 1259.9Q238.6 1259.9 238.9 1254.9L239.8 1238.7Q240.1 1233.7 240.6 1228.7L243.3 1201Q243.8 1196 244.6 1191.1L247.3 1175.3Q248.1 1170.4 249.7 1165.7L253.7 1154.1Q255.4 1149.4 257.7 1145L261.7 1137.3Q264 1132.9 267 1128.9L270.7 1123.8Q272.9 1120.7 275.4 1118.1L276 1117.5Q278.6 1114.8 279.5 1111.2L280.3 1107.7Q281.5 1102.8 282.4 1097.9L283.7 1090.4Q284.5 1086.1 286.3 1082.2L287.1 1080.4Q288.5 1077.3 290.6 1080L291.1 1080.6Q293.2 1083.3 293.8 1086.6L296.6 1100.9Q297.5 1105.9 298.3 1110.8L301.2 1130.9Q301.9 1135.8 302.6 1140.8L304.2 1153.4Q304.9 1158.4 305.4 1163.4L307.4 1183.5Q307.8 1188.5 308.1 1193.5L310.6 1254.9Q310.8 1259.9 315.8 1259.9L325.8 1259.9Q330.8 1259.9 331.1 1254.9L332 1238.7Q332.3 1233.7 332.7 1228.7L335.5 1201Q335.9 1196 336.8 1191.1L339.5 1175.3Q340.3 1170.4 342 1165.7L346 1154.1Q347.6 1149.4 350 1145L354 1137.3Q356.4 1132.9 359.3 1128.9L363.1 1123.8Q365.3 1120.7 367.9 1118.1L368.4 1117.5Q371 1114.8 371.9 1111.2L372.8 1107.7Q374 1102.8 374.9 1097.9L376.2 1090.4Q377 1086.1 378.8 1082.2L379.6 1080.5Q381 1077.3 383.3 1080L383.7 1080.6Q386 1083.3 386.7 1086.7L389.6 1101Q390.6 1105.9 391.3 1110.8L394.4 1130.9Q395.2 1135.8 395.8 1140.8L397.6 1153.4Q398.3 1158.4 398.8 1163.4L400.9 1183.5Q401.4 1188.5 401.6 1193.5L404.3 1254.9Q404.5 1259.9 409.5 1259.9L420.5 1259.9Q425.5 1259.9 425.8 1254.9L426.8 1238.7Q427.1 1233.7 427.6 1228.7L430.5 1201Q431 1196 431.8 1191.1L434.7 1175.3Q435.6 1170.4 437.3 1165.7L441.6 1154.1Q443.3 1149.4 445.7 1145.1L450 1137.3Q452.5 1132.9 455.5 1129L459.5 1123.8Q461.8 1120.7 464.6 1118.1L465.2 1117.5Q467.9 1114.8 468.9 1111.1L469.8 1107.6Q471 1102.8 472 1097.9L473.4 1090.5Q474.2 1086.1 476.1 1082.2L476.9 1080.5Q478.4 1077.3 480.7 1080L481.2 1080.6Q483.5 1083.3 484.2 1086.7L487.2 1101Q488.2 1105.9 489 1110.8L492.1 1130.9Q492.9 1135.8 493.6 1140.8L495.4 1153.4Q496.1 1158.4 496.6 1163.4L498.8 1183.5Q499.3 1188.5 499.5 1193.5L502.3 1254.9Q502.5 1259.9 507.5 1259.9L519.1 1259.9Q524.1 1259.9 524.4 1254.9L525.3 1238.7Q525.6 1233.7 526.2 1228.7L529.1 1201Q529.6 1196 530.5 1191.1L533.4 1175.3Q534.3 1170.4 536.1 1165.7L540.5 1154.1Q542.2 1149.4 544.7 1145.1L549.2 1137.3Q551.7 1132.9 554.8 1129L558.9 1123.8Q561.3 1120.7 564.1 1118.1L564.7 1117.5Q567.5 1114.8 568.5 1111.1L569.4 1107.6Q570.7 1102.8 571.6 1097.9L573 1090.5Q573.9 1086.1 575.9 1082.2L576.7 1080.5Q578.3 1077.3 580.5 1080L581 1080.6Q583.3 1083.3 584 1086.7L587 1101Q588 1105.9 588.8 1110.8L592 1130.9Q592.7 1135.8 593.4 1140.8L595.2 1153.4Q595.9 1158.4 596.5 1163.4L598.6 1183.5Q599.1 1188.5 599.4 1193.5L602.1 1255.5Q602.3 1259.9 606.8 1259.9L607.8 1259.9Q612.2 1259.9 612.2 1255.5L612.2 1124.8Q612.2 1119.8 617.2 1119.8L668.9 1119.8" stroke="#00ffff"/>
</g>
<ellipse cx="334.5" cy="1262.3" rx="179" ry="75.3" fill="none" stroke="#ff0000" stroke-width="3"/>
<clipPath id="ce2"><ellipse cx="768.5" cy="1250.9" rx="112.2" ry="62.9"/></clipPath>
<g clip-path="url(#ce2)" fill="none" stroke-width="4" stroke-linejoin="miter">
<polyline points="366.7,1438.6 366.7,1400.3 412.8,1439.2 429.2,1439.2 429.6,1230.3 437.3,1228.8 442.1,1216.8 442.9,1424.3 456.6,1395.6 508.2,1439.2 524.6,1439.2 525,1230.3 532.7,1228.8 537.5,1216.8 538.3,1424.3 551.9,1395.6 603.5,1439.2 619.9,1439.2 620.2,1230.3 627.9,1228.8 632.7,1216.8 633.5,1424.3 647,1395.6 698.4,1439.2 714.7,1439.2 715,1230.3 722.7,1228.8 727.5,1216.8 728.3,1424.3 741.9,1395.6 793.2,1439.2 809.4,1439.2 809.8,1230.3 817.5,1228.8 822.3,1216.8 823.1,1424.3 836.8,1395.6 888.4,1439.2 904.8,1439.2 905.1,1230.3 912.8,1228.8 917.5,1216.8 918.3,1424.3 931.9,1395.6 983.3,1439.2 999.6,1439.2 999.9,1230.3 1007.9,1228.8 1012.9,1216.8 1013.7,1424.3 1027.8,1395.6 1081.1,1439.2 1098.1,1439.2 1098.4,1230.3 1106.7,1228.8 1111.9,1216.8 1112.8,1424.3 1127.5,1395.6 1183.1,1439.2 1200.8,1439.2 1201.1,1230.3 1209.4,1228.8 1214.6,1216.8 1215.5,1424.3 1230.2,1395.6 1236.6,1400.6 1236.6,1438.6 1294.7,1438.6" stroke="#0000ff"/>
</g>
<ellipse cx="768.5" cy="1250.9" rx="112.2" ry="62.9" fill="none" stroke="#ff0000" stroke-width="3"/>
<clipPath id="ce3"><ellipse cx="1142.6" cy="1251.5" rx="112.9" ry="62.7"/></clipPath>
<g clip-path="url(#ce3)" fill="none" stroke-width="4" stroke-linejoin="miter">
<polyline points="351.4,993.6 351.4,1033.7 362.4,1028.1 377.3,1018.1 385.4,1012.8 390.6,1002.9 398.8,992.4 408.7,1009.4 413.6,1021.3 413.9,1261.5 428.4,1285.5 429.4,1047 434.9,1047 443.1,1036.6 459.7,1028.1 474.6,1018.1 482.7,1012.8 487.9,1002.9 496.1,992.4 506,1009.4 510.9,1021.3 511.2,1261.5 525.7,1285.5 526.6,1047 532.2,1047 540.4,1036.6 556.9,1028.1 571.8,1018.1 579.9,1012.8 585.1,1002.9 593.3,992.4 603.1,1009.4 608,1021.3 608.4,1261.5 622.7,1285.5 623.7,1047 629.2,1047 637.4,1036.6 653.9,1028.1 668.7,1018.1 676.7,1012.8 681.9,1002.9 690.1,992.4 699.9,1009.4 704.8,1021.3 705.1,1261.5 719.4,1285.5 720.4,1047 726,1047 734.1,1036.6 750.6,1028.1 765.4,1018.1 773.4,1012.8 778.6,1002.9 786.8,992.4 796.5,1009.4 801.4,1021.3 801.7,1261.5 816.2,1285.5 817.1,1047 822.7,1047 830.9,1036.6 847.5,1028.1 862.4,1018.1 870.4,1012.8 875.7,1002.9 883.9,992.4 893.7,1009.4 898.6,1021.3 898.9,1261.5 913.3,1285.5 914.3,1047 919.8,1047 928,1036.6 944.5,1028.1 959.3,1018.1 967.3,1012.8 972.5,1002.9 980.7,992.4 990.5,1009.4 995.4,1021.3 995.7,1261.5 1010.5,1285.5 1011.6,1047 1017.3,1047 1025.8,1036.6 1042.9,1028.1 1058.3,1018.1 1066.6,1012.8 1072,1002.9 1080.5,992.4 1090.7,1009.4 1095.7,1021.3 1096.1,1261.5 1111.6,1285.5 1112.6,1047 1118.6,1047 1127.5,1036.6 1145.3,1028.1 1161.4,1018.1 1170.1,1012.8 1175.7,1002.9 1184.5,992.4 1195.1,1009.4 1200.4,1021.3 1200.8,1261.5 1216.3,1285.5 1217.4,1047 1223.4,1047 1232.3,1036.6 1238.8,1033.5 1238.8,993.6 1298,993.6" stroke="#00ffff"/>
<line x1="1000" y1="1288.7" x2="1300" y2="1288.7" stroke="#262626" stroke-width="4.8"/>
</g>
<ellipse cx="1142.6" cy="1251.5" rx="112.9" ry="62.7" fill="none" stroke="#ff0000" stroke-width="3"/>
<line x1="480.3" y1="971.1" x2="460.9" y2="1190.8" stroke="#4472c4" stroke-width="2.6"/>
<polygon points="459.3,1208.7 451.1,1187.9 471,1189.7" fill="#4472c4"/>
<line x1="404.2" y1="1371.7" x2="639" y2="1260.1" stroke="#4472c4" stroke-width="2.6"/>
<polygon points="655.3,1252.4 641.5,1270 632.9,1252" fill="#4472c4"/>
<line x1="657.4" y1="1667.2" x2="1049.6" y2="1308.9" stroke="#4472c4" stroke-width="2.6"/>
<polygon points="1062.9,1296.8 1054.9,1317.7 1041.4,1302.9" fill="#4472c4"/>
<text x="16.2" y="1835.6" font-family="'Liberation Sans', Arial, sans-serif" font-size="41" fill="#000" text-anchor="start" textLength="239.3" lengthAdjust="spacingAndGlyphs">Joint Angles:</text>
<line x1="278.5" y1="1826.4" x2="364.1" y2="1826.4" stroke="#ff0000" stroke-width="5"/>
<text x="384.5" y="1839.5" font-family="'Liberation Sans', Arial, sans-serif" font-size="40" fill="#000" text-anchor="start" textLength="111" lengthAdjust="spacingAndGlyphs">Joint1</text>
<line x1="530.3" y1="1826.4" x2="615.6" y2="1826.4" stroke="#00b050" stroke-width="5"/>
<text x="635.5" y="1840" font-family="'Liberation Sans', Arial, sans-serif" font-size="41" fill="#000" text-anchor="start" textLength="114.5" lengthAdjust="spacingAndGlyphs">Joint2</text>
<line x1="774.3" y1="1826.4" x2="859.7" y2="1826.4" stroke="#4472c4" stroke-width="5"/>
<text x="880" y="1840" font-family="'Liberation Sans', Arial, sans-serif" font-size="41" fill="#000" text-anchor="start" textLength="112.5" lengthAdjust="spacingAndGlyphs">Joint3</text>
<line x1="1023" y1="1826.6" x2="1108.7" y2="1826.6" stroke="#00b0f0" stroke-width="5"/>
<text x="1129" y="1840" font-family="'Liberation Sans', Arial, sans-serif" font-size="41.3" fill="#000" text-anchor="start" textLength="114" lengthAdjust="spacingAndGlyphs">Joint4</text>
<line x1="1273.3" y1="1828.6" x2="1358.3" y2="1828.6" stroke="#000000" stroke-width="5"/>
<text x="1377.5" y="1841" font-family="'Liberation Sans', Arial, sans-serif" font-size="37.2" fill="#000" text-anchor="start" textLength="113.5" lengthAdjust="spacingAndGlyphs">Joint5</text>
</svg>
</body></html>
